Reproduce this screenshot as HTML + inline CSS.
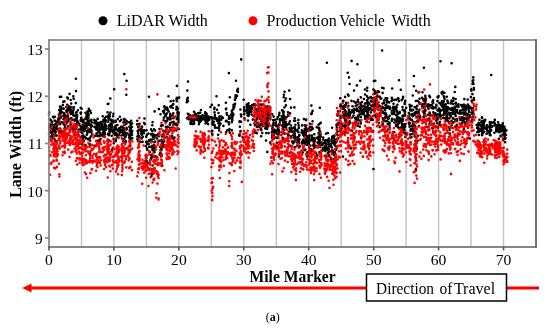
<!DOCTYPE html>
<html><head><meta charset="utf-8"><style>
html,body{margin:0;padding:0;background:#fff;}
body{width:550px;height:333px;overflow:hidden;}
svg{display:block;}
text{font-family:"Liberation Serif","Times New Roman",serif;}
</style></head><body>
<svg width="550" height="333" viewBox="0 0 550 333">
<rect width="550" height="333" fill="#fff"/>
<g stroke="#c4c4c4" stroke-width="1.4"><line x1="81.5" y1="40" x2="81.5" y2="247"/><line x1="113.9" y1="40" x2="113.9" y2="247"/><line x1="146.4" y1="40" x2="146.4" y2="247"/><line x1="178.9" y1="40" x2="178.9" y2="247"/><line x1="211.3" y1="40" x2="211.3" y2="247"/><line x1="243.8" y1="40" x2="243.8" y2="247"/><line x1="276.3" y1="40" x2="276.3" y2="247"/><line x1="308.7" y1="40" x2="308.7" y2="247"/><line x1="341.2" y1="40" x2="341.2" y2="247"/><line x1="373.7" y1="40" x2="373.7" y2="247"/><line x1="406.1" y1="40" x2="406.1" y2="247"/><line x1="438.6" y1="40" x2="438.6" y2="247"/><line x1="471.0" y1="40" x2="471.0" y2="247"/><line x1="503.5" y1="40" x2="503.5" y2="247"/></g>
<g stroke-width="2.6" stroke-linecap="round" fill="none">
<path d="M387.7 117.5h0M49.2 128.7h0M425.0 106.5h0M351.5 100.9h0M116.3 133.4h0M120.7 130.8h0M306.1 130.6h0M481.9 129.0h0M60.8 116.7h0M298.1 137.9h0M255.6 105.3h0M402.8 98.5h0M303.9 119.1h0M502.8 123.2h0M86.1 126.8h0M267.5 120.5h0M413.9 86.3h0M364.7 107.1h0M228.9 73.1h0M382.1 50.5h0M340.2 98.2h0M398.0 122.0h0M63.6 116.0h0M219.0 121.0h0M425.6 97.9h0M310.1 126.9h0M130.1 140.2h0M77.1 117.3h0M307.9 155.9h0M228.7 122.4h0M311.2 129.9h0M70.5 107.8h0M252.1 105.0h0M473.9 98.0h0M452.8 114.0h0M85.0 128.8h0M152.6 165.5h0M79.4 123.7h0M482.8 124.1h0M411.5 120.1h0M320.6 134.3h0M124.3 132.2h0M56.7 128.4h0M472.5 113.3h0M424.8 113.2h0M388.4 118.2h0M123.2 132.3h0M304.7 125.3h0M484.2 126.1h0M139.8 141.6h0M464.6 123.0h0M412.3 126.1h0M221.6 116.8h0M159.5 129.0h0M312.6 121.3h0M413.5 121.7h0M83.0 128.5h0M482.9 131.8h0M187.3 98.7h0M52.5 129.0h0M146.4 141.9h0M102.0 135.0h0M77.2 115.3h0M468.7 106.1h0M385.2 109.7h0M88.4 115.4h0M350.3 112.3h0M81.6 108.7h0M217.0 127.7h0M163.3 134.6h0M261.4 130.1h0M446.4 111.7h0M70.6 109.6h0M376.1 107.7h0M435.4 113.2h0M49.7 124.3h0M325.0 142.5h0M101.0 122.1h0M410.6 130.8h0M261.4 119.1h0M386.3 105.1h0M499.4 132.3h0M170.5 119.3h0M129.2 137.7h0M89.8 120.8h0M278.4 134.3h0M318.4 137.2h0M121.2 131.9h0M308.4 143.7h0M371.5 118.1h0M52.2 121.8h0M312.5 149.7h0M290.0 152.9h0M164.3 106.2h0M317.8 137.1h0M367.2 108.5h0M472.5 114.0h0M279.4 132.3h0M55.7 124.9h0M126.8 133.3h0M341.8 117.1h0M318.3 139.0h0M339.8 127.6h0M367.0 100.4h0M50.1 131.4h0M100.6 139.1h0M246.7 104.5h0M339.9 111.2h0M86.2 119.0h0M350.2 122.9h0M314.6 141.8h0M341.4 125.9h0M60.5 109.5h0M482.5 133.6h0M387.7 101.5h0M463.2 117.5h0M225.9 121.2h0M292.1 141.6h0M252.2 108.4h0M355.6 102.7h0M355.7 109.7h0M268.8 114.5h0M126.9 121.3h0M476.7 125.1h0M49.7 132.7h0M77.9 122.0h0M98.9 131.8h0M166.0 114.4h0M289.9 121.3h0M212.2 118.7h0M189.1 116.3h0M330.8 151.0h0M416.2 122.1h0M256.9 133.3h0M288.2 135.0h0M360.3 108.7h0M399.0 80.2h0M437.2 123.2h0M318.3 146.4h0M107.6 112.2h0M416.4 113.0h0M432.1 115.2h0M218.2 134.7h0M166.4 129.6h0M124.8 135.4h0M356.4 118.7h0M265.9 126.5h0M73.4 115.5h0M151.8 155.8h0M149.2 146.9h0M439.5 124.6h0M291.0 125.5h0M469.6 108.2h0M83.6 120.5h0M440.4 111.1h0M170.0 117.0h0M502.7 129.0h0M51.8 122.3h0M252.9 119.6h0M398.0 114.0h0M424.6 114.0h0M125.1 136.7h0M100.2 124.3h0M259.1 126.4h0M163.3 130.7h0M282.5 126.2h0M498.8 138.9h0M187.8 97.9h0M319.6 123.8h0M472.0 121.7h0M358.0 123.2h0M142.3 130.7h0M468.4 120.1h0M61.3 96.7h0M103.1 133.2h0M250.3 110.8h0M126.4 148.5h0M65.4 117.8h0M453.1 112.9h0M273.2 120.2h0M161.4 150.2h0M248.5 103.3h0M483.9 132.0h0M429.8 106.0h0M75.8 115.3h0M370.9 112.4h0M163.0 111.4h0M272.3 133.9h0M478.9 134.9h0M273.1 124.3h0M328.3 142.5h0M316.8 138.0h0M443.7 115.3h0M397.0 119.3h0M282.5 120.8h0M500.7 130.0h0M178.3 113.5h0M404.6 110.4h0M59.9 96.9h0M139.6 123.7h0M277.8 117.0h0M309.4 140.5h0M97.1 125.1h0M489.8 125.9h0M167.6 126.8h0M161.5 146.2h0M59.4 110.0h0M247.4 106.3h0M81.2 128.0h0M276.0 122.2h0M306.2 119.5h0M499.0 129.6h0M268.5 122.9h0M331.3 143.7h0M166.8 121.2h0M276.9 142.8h0M196.9 119.3h0M319.9 139.1h0M335.4 141.8h0M132.0 134.9h0M156.8 156.7h0M486.1 128.3h0M389.1 102.4h0M191.0 123.9h0M59.7 122.1h0M411.1 109.7h0M467.2 120.4h0M325.2 141.3h0M104.5 133.0h0M193.8 115.5h0M241.0 121.7h0M389.6 107.6h0M464.8 118.3h0M302.0 143.6h0M490.3 122.9h0M208.1 120.4h0M504.5 134.5h0M206.4 121.6h0M85.7 124.4h0M384.7 113.8h0M210.4 107.0h0M146.2 136.7h0M435.4 108.1h0M115.7 125.7h0M195.1 113.5h0M374.8 99.6h0M64.9 127.2h0M319.2 145.2h0M148.7 141.2h0M108.4 103.7h0M422.5 120.7h0M85.4 118.5h0M487.0 125.3h0M115.7 141.2h0M285.9 105.4h0M227.3 130.2h0M59.9 113.4h0M168.9 131.7h0M480.8 130.1h0M312.5 150.3h0M84.9 126.4h0M177.9 118.7h0M482.6 128.9h0M244.2 110.3h0M108.0 121.7h0M104.7 118.2h0M130.4 122.3h0M361.8 106.8h0M318.0 147.3h0M110.5 112.5h0M81.5 130.6h0M198.3 116.0h0M361.3 109.7h0M500.9 131.2h0M68.5 108.5h0M297.6 139.8h0M63.9 113.0h0M374.9 93.4h0M58.1 123.9h0M479.0 131.5h0M365.4 115.9h0M452.7 110.0h0M219.4 125.0h0M113.6 130.4h0M51.4 125.0h0M349.1 123.7h0M461.3 119.2h0M154.5 152.3h0M419.4 103.6h0M307.0 156.4h0M173.7 121.9h0M97.4 130.1h0M130.2 130.6h0M332.4 152.2h0M266.0 110.0h0M219.2 130.4h0M373.0 98.4h0M173.3 122.6h0M139.9 141.8h0M178.7 113.3h0M259.3 118.3h0M55.4 124.3h0M394.3 122.5h0M59.5 133.0h0M132.0 132.8h0M330.9 145.7h0M58.8 119.5h0M248.1 109.7h0M506.4 130.2h0M77.2 123.0h0M129.4 136.3h0M76.6 114.9h0M444.2 97.1h0M305.8 137.9h0M473.9 88.0h0M283.3 113.2h0M61.7 112.5h0M333.7 141.0h0M195.3 118.5h0M385.7 115.7h0M138.1 127.3h0M53.0 116.9h0M428.4 105.5h0M322.6 143.9h0M453.1 104.1h0M505.3 129.7h0M267.5 125.4h0M123.7 121.9h0M205.5 123.5h0M456.9 106.1h0M71.0 123.5h0M401.8 120.9h0M120.7 129.6h0M332.3 142.8h0M232.1 110.5h0M473.3 110.8h0M465.5 114.6h0M276.6 133.4h0M130.9 129.1h0M277.9 127.9h0M505.3 138.1h0M260.9 114.2h0M403.0 120.7h0M74.3 126.0h0M322.7 148.5h0M194.8 116.2h0M492.0 127.0h0M391.8 110.7h0M84.3 127.7h0M428.2 120.1h0M255.4 120.8h0M424.5 108.0h0M451.5 120.9h0M361.1 105.6h0M371.0 100.9h0M165.5 131.2h0M337.6 131.6h0M113.3 132.5h0M83.1 126.2h0M288.3 141.1h0M481.9 125.4h0M202.4 115.2h0M311.9 135.5h0M153.7 138.8h0M216.7 118.2h0M250.5 111.9h0M267.8 122.9h0M80.8 129.3h0M472.3 110.0h0M233.7 107.3h0M86.9 131.3h0M108.2 115.8h0M331.9 150.2h0M490.0 125.6h0M88.2 128.8h0M104.1 119.9h0M362.9 112.4h0M462.6 106.0h0M67.2 110.4h0M99.2 123.5h0M88.4 111.1h0M275.6 130.7h0M146.4 158.4h0M487.4 126.8h0M417.6 140.8h0M177.5 108.3h0M188.6 119.3h0M100.7 125.0h0M439.8 122.1h0M492.2 126.4h0M272.8 138.1h0M64.5 125.0h0M109.6 116.4h0M391.8 112.9h0M148.5 133.5h0M265.5 117.0h0M168.6 111.4h0M74.7 124.0h0M429.5 124.0h0M236.1 95.6h0M152.7 156.9h0M278.9 130.1h0M123.6 132.3h0M370.8 97.0h0M138.2 131.7h0M248.5 103.7h0M363.5 114.3h0M130.6 124.5h0M444.3 114.8h0M60.8 133.2h0M197.1 119.2h0M63.6 108.7h0M252.9 105.5h0M450.2 114.5h0M103.0 127.2h0M331.9 147.5h0M260.2 118.7h0M443.8 108.5h0M505.2 131.0h0M305.5 134.5h0M347.7 72.7h0M348.5 128.2h0M113.4 113.8h0M114.0 132.6h0M61.9 122.3h0M502.1 131.1h0M95.7 127.1h0M447.1 115.3h0M502.5 134.5h0M458.4 113.2h0M333.7 159.3h0M489.9 132.3h0M258.1 110.8h0M118.0 134.7h0M248.0 113.4h0M205.3 119.6h0M478.7 130.7h0M282.7 129.0h0M229.8 132.7h0M359.2 107.3h0M215.1 117.8h0M455.1 112.6h0M467.2 117.1h0M204.6 118.0h0M312.7 140.8h0M103.2 121.6h0M483.8 123.4h0M208.0 118.0h0M439.3 103.0h0M380.2 106.4h0M248.3 116.0h0M82.0 144.2h0M447.6 107.1h0M352.5 117.3h0M479.0 123.5h0M126.5 134.4h0M67.5 110.9h0M415.7 157.8h0M319.7 136.5h0M262.1 121.8h0M465.1 124.0h0M88.8 108.9h0M293.6 137.5h0M272.0 132.7h0M232.1 112.7h0M255.4 124.2h0M375.3 80.7h0M160.5 114.3h0M205.1 112.2h0M283.6 121.4h0M409.4 124.6h0M126.6 80.7h0M369.4 103.9h0M404.9 115.6h0M99.3 136.3h0M217.0 120.7h0M385.2 108.1h0M123.5 134.8h0M388.5 107.3h0M345.1 96.9h0M432.8 101.1h0M506.1 130.7h0M408.7 118.0h0M446.2 119.9h0M482.0 117.4h0M141.4 132.3h0M131.9 132.2h0M489.3 131.0h0M261.8 116.7h0M52.3 138.0h0M388.7 118.3h0M237.0 95.9h0M504.5 126.8h0M437.6 119.3h0M472.9 108.2h0M389.7 123.1h0M443.9 115.0h0M411.8 119.9h0M50.3 127.8h0M466.3 118.5h0M83.3 128.1h0M325.5 147.4h0M90.1 129.7h0M219.5 120.3h0M387.2 98.4h0M424.3 114.0h0M346.0 102.9h0M114.2 133.8h0M191.8 116.9h0M218.5 113.0h0M272.6 128.0h0M248.3 112.9h0M423.7 107.5h0M125.4 136.9h0M478.7 122.8h0M123.3 147.9h0M60.3 113.8h0M376.9 93.2h0M482.1 118.1h0M334.4 135.5h0M109.0 134.7h0M261.2 120.9h0M473.9 89.8h0M424.2 114.7h0M304.7 150.2h0M462.3 105.4h0M247.0 106.9h0M353.5 115.5h0M63.5 119.2h0M137.4 139.3h0M267.3 121.5h0M479.4 119.8h0M174.2 117.5h0M60.0 106.6h0M115.1 134.9h0M247.8 112.3h0M385.2 121.2h0M454.9 108.9h0M490.1 131.7h0M419.1 102.3h0M251.8 114.7h0M115.8 126.4h0M104.7 130.4h0M205.9 116.7h0M65.2 125.5h0M261.7 122.2h0M214.9 127.7h0M499.3 130.9h0M294.7 128.5h0M176.5 123.6h0M382.6 103.6h0M231.8 116.5h0M124.5 135.7h0M284.6 91.8h0M498.9 125.1h0M357.1 105.1h0M360.5 103.3h0M152.7 135.7h0M165.5 121.1h0M355.4 118.1h0M251.8 108.5h0M467.1 114.1h0M81.3 117.8h0M176.5 109.0h0M282.8 120.5h0M91.4 131.6h0M266.7 107.7h0M361.7 113.4h0M461.7 110.2h0M349.5 116.2h0M55.2 140.8h0M339.2 122.6h0M353.6 123.2h0M382.6 107.8h0M266.1 118.6h0M469.7 117.1h0M249.0 114.2h0M305.9 136.9h0M463.8 129.1h0M103.2 120.4h0M63.3 101.9h0M196.9 119.6h0M294.5 134.4h0M86.8 134.8h0M80.9 119.6h0M428.6 114.7h0M199.8 117.2h0M436.6 115.8h0M170.4 130.2h0M237.9 91.9h0M214.8 125.7h0M356.8 108.5h0M199.4 120.4h0M451.6 125.4h0M279.8 123.4h0M155.4 147.0h0M348.6 95.7h0M124.3 122.2h0M492.3 122.8h0M481.8 131.2h0M73.0 112.6h0M385.4 105.2h0M417.8 135.8h0M97.7 118.9h0M504.1 135.4h0M287.9 124.2h0M126.5 134.4h0M219.1 121.7h0M367.6 102.4h0M79.4 136.3h0M205.6 114.2h0M307.7 142.7h0M387.9 118.8h0M110.3 98.5h0M358.5 120.2h0M205.5 114.5h0M445.4 109.5h0M112.3 127.4h0M478.7 128.4h0M172.1 122.3h0M325.5 145.7h0M410.4 110.5h0M443.0 110.0h0M279.9 124.7h0M290.0 129.9h0M109.2 135.2h0M386.9 102.4h0M482.0 130.0h0M303.1 134.8h0M194.0 117.0h0M270.4 119.2h0M314.2 138.1h0M176.5 124.9h0M435.3 114.8h0M477.3 128.3h0M102.6 124.2h0M447.6 120.6h0M460.1 110.9h0M200.7 120.0h0M258.0 114.6h0M111.5 119.9h0M422.5 92.2h0M400.7 119.2h0M216.6 119.4h0M389.6 127.5h0M129.1 135.0h0M149.0 96.7h0M244.5 111.0h0M358.2 101.7h0M447.6 101.4h0M412.3 128.7h0M326.0 133.8h0M382.7 118.4h0M317.6 127.5h0M338.0 138.2h0M438.3 110.6h0M204.0 117.4h0M72.1 126.7h0M401.6 100.3h0M279.9 120.8h0M231.8 117.1h0M375.6 99.9h0M71.5 110.9h0M484.6 121.6h0M478.5 129.8h0M404.5 130.3h0M309.1 140.2h0M312.1 137.3h0M447.6 107.4h0M141.5 131.6h0M118.3 129.7h0M233.0 113.8h0M154.1 168.6h0M115.5 130.0h0M88.8 124.8h0M247.5 109.2h0M168.5 96.3h0M88.0 115.8h0M425.1 101.1h0M110.7 126.9h0M393.3 106.9h0M67.1 104.7h0M413.1 130.8h0M377.0 96.4h0M200.2 112.8h0M262.4 113.1h0M162.4 142.6h0M328.3 142.1h0M131.2 120.8h0M336.6 139.9h0M172.8 117.8h0M375.9 117.3h0M357.9 117.2h0M125.2 135.4h0M455.1 109.4h0M284.1 130.1h0M116.2 132.9h0M325.0 147.6h0M349.6 84.0h0M256.9 127.0h0M457.1 110.1h0M130.0 139.5h0M295.6 138.0h0M457.0 105.9h0M194.1 122.6h0M195.1 119.6h0M125.5 119.9h0M272.3 126.8h0M75.9 78.8h0M123.6 133.7h0M323.3 139.8h0M379.7 127.1h0M59.4 117.0h0M156.9 135.4h0M214.3 109.1h0M345.6 105.3h0M361.2 114.1h0M319.8 107.7h0M373.4 89.5h0M413.0 128.5h0M497.7 130.9h0M434.6 114.2h0M328.2 150.5h0M378.2 106.2h0M281.8 116.3h0M260.6 110.4h0M478.4 131.6h0M108.4 118.7h0M477.1 127.9h0M305.6 138.6h0M233.5 104.9h0M420.0 119.7h0M297.5 129.8h0M504.7 136.7h0M284.1 125.6h0M481.0 125.0h0M471.5 108.1h0M441.1 105.0h0M325.7 147.8h0M106.2 128.8h0M202.8 119.5h0M273.7 135.0h0M416.8 109.1h0M343.0 156.6h0M126.0 133.2h0M139.5 136.7h0M68.4 118.3h0M378.2 96.5h0M76.3 112.7h0M244.3 113.9h0M447.3 100.5h0M359.5 111.4h0M410.8 106.2h0M231.8 130.4h0M346.2 116.5h0M211.6 131.5h0M278.1 128.9h0M88.2 139.1h0M161.5 141.3h0M267.8 127.0h0M418.7 112.1h0M294.0 120.7h0M98.6 125.6h0M388.6 122.0h0M199.0 113.1h0M462.2 106.1h0M484.3 120.5h0M49.9 132.7h0M132.2 131.0h0M496.1 131.4h0M119.8 132.7h0M298.7 125.6h0M379.0 91.8h0M110.1 130.7h0M438.1 97.2h0M49.8 126.3h0M214.9 115.1h0M487.0 128.3h0M481.1 130.5h0M62.8 105.1h0M68.4 121.2h0M229.8 97.2h0M97.2 123.3h0M52.8 124.9h0M129.1 122.2h0M237.3 90.9h0M67.9 109.4h0M494.9 124.4h0M152.9 136.9h0M367.3 118.9h0M450.7 103.5h0M367.9 114.9h0M266.1 112.7h0M433.0 102.2h0M411.5 137.3h0M56.7 141.4h0M126.8 129.3h0M281.3 119.1h0M505.4 138.6h0M164.7 109.5h0M462.7 105.2h0M246.8 110.2h0M167.4 147.3h0M103.1 134.3h0M240.4 109.5h0M173.2 104.0h0M404.5 125.9h0M332.4 142.4h0M345.4 125.6h0M176.9 85.9h0M256.2 109.0h0M498.7 131.5h0M187.0 118.2h0M78.3 134.5h0M322.9 149.7h0M303.6 146.1h0M357.9 123.2h0M340.1 131.2h0M385.4 114.5h0M246.9 105.6h0M327.6 147.7h0M469.6 107.3h0M80.9 120.0h0M457.9 105.1h0M248.4 111.3h0M255.3 120.8h0M457.6 135.0h0M152.6 122.1h0M344.0 116.2h0M464.5 107.1h0M370.0 108.1h0M49.0 133.5h0M152.8 169.2h0M282.8 110.8h0M409.6 104.7h0M378.1 107.0h0M458.4 104.3h0M73.9 107.4h0M440.3 115.2h0M189.9 118.7h0M316.1 153.2h0M319.0 127.7h0M335.2 143.4h0M314.9 147.0h0M257.0 109.8h0M410.3 134.5h0M176.8 119.2h0M235.1 103.7h0M345.2 118.5h0M397.4 104.8h0M420.1 116.8h0M250.5 108.5h0M360.8 97.4h0M288.2 115.7h0M59.9 129.2h0M387.7 124.0h0M151.5 146.8h0M204.3 116.4h0M248.3 105.2h0M154.2 144.9h0M214.4 118.4h0M163.0 144.3h0M170.6 119.2h0M412.4 114.6h0M388.0 107.4h0M100.0 135.5h0M343.3 100.7h0M67.7 109.8h0M200.4 121.7h0M162.0 125.3h0M472.7 81.0h0M106.1 125.7h0M442.3 94.1h0M442.4 91.8h0M504.6 132.9h0M272.3 135.7h0M147.2 149.7h0M463.7 113.4h0M272.4 132.6h0M328.9 155.3h0M108.1 133.7h0M279.3 154.2h0M64.3 122.2h0M52.5 128.7h0M443.9 101.6h0M356.9 85.4h0M257.5 124.0h0M190.8 116.8h0M394.0 112.4h0M190.2 115.5h0M412.4 134.1h0M334.9 143.2h0M336.4 125.0h0M423.9 116.8h0M279.2 115.1h0M212.5 123.4h0M60.2 111.5h0M499.4 129.2h0M141.2 131.1h0M325.0 150.0h0M154.0 129.2h0M108.8 140.4h0M103.0 128.2h0M437.4 118.1h0M497.8 130.9h0M256.4 119.9h0M126.3 94.8h0M274.2 132.8h0M220.5 123.5h0M124.7 136.5h0M118.3 130.9h0M410.0 109.6h0M413.1 131.3h0M115.7 121.8h0M427.9 107.1h0M102.7 116.3h0M433.6 107.0h0M147.0 148.5h0M94.9 135.9h0M80.6 112.7h0M498.8 129.0h0M361.0 106.5h0M468.5 119.4h0M113.6 138.9h0M449.6 130.0h0M262.1 124.3h0M110.5 131.6h0M88.3 118.5h0M385.6 98.4h0M318.6 146.4h0M327.9 148.1h0M49.5 139.4h0M267.6 114.8h0M389.6 125.2h0M265.8 122.8h0M251.9 108.9h0M311.4 105.6h0M229.5 129.1h0M49.6 124.9h0M75.5 120.1h0M502.8 125.8h0M386.6 117.3h0M76.4 119.5h0M267.2 112.4h0M290.1 113.2h0M482.1 129.9h0M467.2 115.6h0M427.8 114.8h0M329.1 152.0h0M337.7 123.5h0M429.4 95.9h0M367.5 101.6h0M248.3 110.1h0M470.9 97.1h0M486.4 128.9h0M60.2 131.3h0M109.4 131.2h0M244.1 107.3h0M105.1 125.0h0M90.5 125.5h0M378.1 118.5h0M458.0 113.0h0M448.8 121.9h0M455.6 103.6h0M465.6 110.7h0M423.2 107.8h0M286.1 127.5h0M497.5 127.0h0M69.6 108.3h0M208.1 124.1h0M490.1 124.5h0M311.8 112.9h0M319.3 138.9h0M86.9 118.2h0M487.1 127.6h0M439.8 109.8h0M289.6 128.1h0M464.7 108.3h0M285.9 121.8h0M290.8 129.1h0M341.1 116.2h0M425.6 100.7h0M399.7 113.0h0M249.9 109.1h0M373.7 101.3h0M410.8 129.3h0M257.2 112.4h0M386.8 107.8h0M285.8 123.5h0M304.9 131.4h0M464.1 107.1h0M200.0 117.6h0M153.0 173.4h0M201.0 117.2h0M264.1 109.7h0M257.7 123.1h0M393.5 103.7h0M177.8 111.9h0M250.3 109.5h0M235.6 95.2h0M310.1 123.7h0M440.5 61.3h0M244.4 118.3h0M331.3 141.2h0M75.3 116.1h0M481.7 128.5h0M71.3 118.2h0M410.1 134.6h0M90.3 110.8h0M319.2 140.6h0M423.7 99.4h0M332.1 127.7h0M447.0 111.5h0M247.9 107.2h0M139.0 137.1h0M151.1 129.4h0M283.9 94.7h0M273.6 122.8h0M414.6 112.8h0M483.1 126.0h0M251.7 114.5h0M328.7 144.3h0M463.5 109.1h0M298.5 132.3h0M464.0 114.6h0M417.7 121.0h0M231.8 110.9h0M293.4 134.9h0M414.7 107.0h0M350.0 114.6h0M220.3 124.0h0M276.3 146.6h0M362.8 110.8h0M484.2 131.7h0M172.4 127.6h0M110.7 129.6h0M91.1 124.7h0M317.5 142.5h0M473.2 83.2h0M307.5 136.4h0M463.5 104.8h0M477.9 125.7h0M262.3 133.1h0M478.3 124.0h0M73.6 109.7h0M504.6 137.1h0M87.3 133.5h0M344.2 106.8h0M53.5 117.5h0M248.8 106.0h0M392.6 108.0h0M199.3 122.4h0M419.6 98.8h0M439.2 108.6h0M116.1 134.8h0M382.5 122.0h0M113.7 133.7h0M356.1 122.7h0M327.5 140.6h0M108.2 121.4h0M67.0 120.0h0M360.2 120.7h0M489.8 135.0h0M152.6 150.3h0M167.4 110.0h0M443.5 105.0h0M102.8 128.1h0M449.5 128.3h0M404.6 110.5h0M284.4 133.4h0M237.5 91.2h0M385.0 110.1h0M55.7 128.3h0M298.2 123.1h0M357.4 109.9h0M505.2 135.0h0M325.0 148.5h0M268.5 112.4h0M109.5 129.5h0M77.2 115.4h0M425.5 99.0h0M413.3 122.7h0M89.9 137.9h0M319.8 144.4h0M231.7 115.8h0M54.8 131.0h0M456.9 124.7h0M332.2 137.6h0M502.7 126.7h0M141.9 134.8h0M269.8 119.3h0M471.5 112.5h0M149.7 152.0h0M60.3 115.8h0M231.5 117.5h0M463.8 113.0h0M244.1 109.2h0M374.2 99.1h0M266.7 116.6h0M214.5 107.7h0M111.8 125.3h0M83.4 135.6h0M306.0 138.8h0M332.0 151.2h0M66.8 110.5h0M293.2 141.9h0M49.2 127.4h0M377.5 91.2h0M429.8 124.0h0M450.4 113.6h0M126.2 129.6h0M442.7 102.8h0M293.0 143.4h0M163.8 117.8h0M91.5 130.5h0M292.9 131.5h0M467.9 104.5h0M302.0 125.4h0M79.0 124.7h0M49.2 112.3h0M212.5 124.6h0M234.2 107.5h0M413.1 109.7h0M123.3 141.2h0M357.1 110.9h0M162.7 125.3h0M236.6 95.6h0M244.2 110.0h0M218.8 120.0h0M162.0 136.5h0M160.0 146.8h0M201.2 118.5h0M417.2 105.9h0M167.2 121.1h0M297.7 131.4h0M131.9 131.2h0M233.1 113.5h0M142.6 141.7h0M361.0 105.0h0M250.4 124.8h0M96.5 122.3h0M64.7 131.4h0M304.7 129.1h0M164.0 111.5h0M174.5 137.6h0M337.6 115.8h0M404.3 124.2h0M354.1 108.9h0M124.1 119.1h0M397.3 119.7h0M441.8 101.3h0M389.7 115.9h0M440.2 117.5h0M95.8 120.8h0M445.5 104.2h0M449.7 114.6h0M311.6 139.0h0M299.2 135.7h0M161.3 155.7h0M366.3 103.0h0M105.7 130.1h0M504.2 132.0h0M443.3 118.0h0M464.5 122.0h0M310.5 149.3h0M169.8 127.8h0M490.5 125.1h0M375.0 115.0h0M463.7 112.7h0M290.7 130.8h0M478.5 123.6h0M226.2 108.6h0M374.3 104.1h0M424.2 106.9h0M415.9 113.4h0M265.0 115.1h0M367.1 110.5h0M445.5 106.8h0M444.5 99.0h0M319.4 129.9h0M325.8 140.2h0M52.9 131.6h0M357.8 116.5h0M227.0 114.8h0M68.1 109.8h0M357.9 125.8h0M193.7 117.1h0M129.8 137.0h0M286.6 117.2h0M455.7 115.9h0M76.5 116.2h0M312.8 140.0h0M367.8 108.1h0M365.3 107.1h0M489.7 132.2h0M457.3 119.1h0M490.2 129.5h0M445.5 112.1h0M268.5 125.4h0M377.9 104.3h0M446.5 113.5h0M414.5 128.7h0M232.5 115.2h0M444.2 108.1h0M125.3 142.7h0M113.4 122.3h0M170.4 115.7h0M293.9 142.4h0M64.4 101.4h0M433.0 103.2h0M371.3 101.6h0M108.3 116.9h0M162.5 142.4h0M374.1 102.5h0M64.9 119.1h0M393.7 109.1h0M406.1 107.9h0M355.6 118.5h0M77.5 122.0h0M246.9 109.4h0M247.8 106.4h0M359.6 131.3h0M378.1 115.3h0M491.2 75.0h0M284.4 107.5h0M326.2 144.8h0M489.9 127.2h0M219.3 122.9h0M323.1 148.3h0M273.7 131.8h0M84.6 136.8h0M505.2 142.3h0M294.8 135.6h0M86.5 116.5h0M71.2 103.6h0M144.0 165.0h0M52.5 135.9h0M460.5 113.8h0M451.6 100.6h0M52.3 129.2h0M460.4 119.9h0M356.5 122.7h0M198.3 116.0h0M425.4 110.8h0M234.9 99.9h0M309.3 130.7h0M501.0 125.6h0M473.3 77.4h0M82.8 124.9h0M283.0 130.9h0M450.4 109.6h0M374.8 97.9h0M279.1 124.6h0M365.1 111.0h0M66.5 106.9h0M417.3 121.5h0M229.7 118.2h0M259.8 124.8h0M365.8 107.6h0M412.7 116.1h0M142.2 142.0h0M303.4 142.7h0M288.1 114.7h0M494.9 123.5h0M90.7 129.3h0M283.7 111.7h0M452.6 108.1h0M412.0 110.5h0M320.2 131.7h0M124.2 133.2h0M316.7 127.3h0M386.8 100.9h0M111.7 122.3h0M137.3 120.7h0M304.2 136.5h0M504.3 134.6h0M239.7 121.9h0M152.3 155.2h0M328.0 140.5h0M123.3 139.8h0M314.3 147.9h0M306.0 120.3h0M374.6 106.3h0M332.0 141.5h0M375.9 102.8h0M501.4 126.8h0M284.1 123.6h0M83.1 139.4h0M235.6 98.1h0M409.2 122.7h0M121.1 126.7h0M335.0 152.2h0M425.3 95.9h0M400.8 89.7h0M297.1 145.6h0M444.4 92.8h0M331.1 145.4h0M436.4 106.2h0M124.2 131.0h0M176.8 97.9h0M344.7 111.7h0M159.6 154.6h0M263.3 116.8h0M402.7 115.5h0M482.2 134.7h0M268.0 113.6h0M441.5 92.8h0M405.3 137.0h0M97.3 136.0h0M130.3 127.7h0M392.2 88.5h0M502.5 127.4h0M412.9 122.7h0M440.0 110.3h0M122.3 126.8h0M368.8 102.9h0M348.4 105.7h0M422.2 104.4h0M272.3 128.7h0M276.8 131.3h0M244.7 111.0h0M153.9 136.3h0M445.3 106.3h0M466.1 114.3h0M95.3 127.1h0M367.5 111.9h0M167.0 107.5h0M348.4 117.5h0M89.9 124.8h0M63.6 124.0h0M461.4 117.2h0M170.4 107.1h0M312.5 128.7h0M345.3 110.9h0M202.0 118.8h0M255.0 132.6h0M168.5 142.9h0M391.6 100.9h0M118.9 134.8h0M444.5 109.2h0M444.2 109.3h0M401.8 123.5h0M261.2 136.2h0M87.7 121.0h0M85.9 138.5h0M91.1 126.9h0M414.6 132.0h0M223.4 125.9h0M161.8 155.8h0M68.5 106.1h0M358.1 115.9h0M422.3 107.3h0M126.2 134.4h0M433.2 132.0h0M85.5 112.8h0M325.9 155.6h0M266.3 133.1h0M113.2 132.2h0M299.2 139.1h0M383.0 124.8h0M219.3 118.5h0M412.8 95.5h0M251.8 108.4h0M279.9 124.5h0M442.2 106.8h0M482.6 126.4h0M343.9 114.9h0M376.5 101.2h0M114.1 132.8h0M410.4 119.4h0M165.7 115.4h0M397.0 118.0h0M178.7 129.0h0M348.4 124.7h0M313.0 145.5h0M397.0 111.0h0M191.0 122.2h0M261.0 109.6h0M304.9 143.4h0M440.0 103.3h0M166.8 113.5h0M192.3 119.9h0M374.0 109.5h0M333.7 159.8h0M453.1 118.0h0M67.9 98.4h0M363.9 112.0h0M334.7 139.4h0M354.0 112.5h0M77.0 121.9h0M394.4 119.6h0M464.3 99.1h0M460.3 118.3h0M455.1 114.3h0M151.2 159.3h0M155.0 147.3h0M139.0 126.3h0M138.9 136.0h0M500.2 131.2h0M354.0 112.6h0M410.4 137.6h0M226.2 132.1h0M359.3 111.8h0M498.8 131.9h0M437.8 114.4h0M384.1 100.5h0M68.6 106.8h0M55.7 135.1h0M313.8 144.6h0M232.2 117.1h0M283.6 115.0h0" stroke="#000"/>
<path d="M452.3 123.8h0M367.3 128.3h0M194.7 135.8h0M64.8 137.9h0M77.9 131.8h0M64.7 147.8h0M231.9 145.7h0M54.2 153.8h0M173.4 142.5h0M432.6 150.3h0M314.0 163.3h0M247.7 130.8h0M394.2 138.2h0M492.7 148.1h0M251.5 140.3h0M301.4 150.5h0M368.4 130.6h0M428.9 126.4h0M429.7 129.6h0M502.6 153.1h0M463.9 154.0h0M249.7 153.1h0M203.9 138.7h0M49.6 164.3h0M299.0 154.4h0M438.1 149.7h0M477.6 143.1h0M92.6 158.0h0M271.3 157.8h0M368.8 147.8h0M438.2 145.5h0M63.4 135.0h0M174.2 145.1h0M221.2 151.8h0M363.4 146.4h0M477.5 146.5h0M348.2 132.8h0M444.9 141.5h0M500.1 147.6h0M502.8 140.0h0M407.2 134.8h0M301.4 158.3h0M436.3 135.7h0M307.4 152.1h0M345.7 132.7h0M194.3 117.2h0M287.5 147.1h0M119.4 160.5h0M474.2 99.8h0M289.0 141.1h0M324.8 165.5h0M71.8 120.3h0M347.8 141.1h0M401.7 135.0h0M97.4 143.3h0M116.7 147.3h0M167.3 150.4h0M109.0 145.8h0M485.6 138.5h0M462.0 125.4h0M433.2 108.1h0M65.8 142.8h0M204.3 147.8h0M96.0 146.3h0M408.2 147.7h0M401.8 144.9h0M215.0 141.6h0M444.9 142.8h0M92.4 145.0h0M424.4 144.1h0M244.2 151.2h0M194.5 141.7h0M243.3 134.3h0M68.3 133.4h0M421.6 132.1h0M106.0 155.1h0M81.8 153.2h0M76.2 134.7h0M80.5 131.9h0M157.7 172.8h0M389.9 142.7h0M388.6 140.2h0M416.5 164.5h0M330.3 156.8h0M386.6 126.5h0M193.5 116.9h0M270.1 115.2h0M301.6 161.8h0M62.7 131.9h0M347.6 107.7h0M324.6 166.2h0M80.6 137.3h0M79.6 141.6h0M241.8 181.9h0M478.4 150.2h0M232.2 147.6h0M218.0 138.5h0M415.8 168.7h0M285.9 118.8h0M138.9 168.3h0M247.9 152.1h0M167.0 159.1h0M402.5 150.2h0M284.6 142.5h0M415.6 143.5h0M360.6 124.0h0M503.9 160.5h0M114.0 162.5h0M392.4 134.6h0M445.2 118.1h0M484.3 143.8h0M503.0 140.5h0M388.8 142.4h0M462.5 126.5h0M404.8 149.3h0M240.0 153.5h0M337.4 168.4h0M79.6 162.8h0M361.3 148.5h0M72.8 131.1h0M309.6 169.9h0M258.2 117.6h0M118.6 146.9h0M320.9 177.8h0M110.5 157.3h0M56.8 148.2h0M221.5 154.2h0M410.1 125.7h0M56.6 156.5h0M423.6 145.9h0M75.5 151.4h0M138.8 156.0h0M58.9 140.2h0M476.1 109.4h0M309.3 152.3h0M99.5 149.4h0M380.1 137.7h0M418.0 119.3h0M166.4 147.6h0M52.0 140.7h0M426.0 132.3h0M219.3 166.4h0M273.6 136.9h0M267.5 87.0h0M294.1 156.0h0M225.6 153.0h0M270.3 108.1h0M148.5 186.1h0M167.2 146.6h0M62.6 140.2h0M348.4 142.7h0M367.2 156.6h0M495.9 145.2h0M167.5 142.0h0M274.1 145.8h0M450.1 133.5h0M480.2 144.4h0M68.2 149.6h0M219.7 142.8h0M480.4 149.7h0M499.9 150.2h0M435.9 127.3h0M211.7 178.6h0M75.1 136.2h0M325.0 173.8h0M49.5 140.9h0M195.6 140.7h0M443.7 150.9h0M479.3 144.8h0M313.5 142.1h0M81.7 158.4h0M79.1 136.0h0M340.9 129.8h0M467.6 134.2h0M83.4 159.6h0M265.3 116.6h0M147.5 167.6h0M118.6 149.6h0M84.9 172.5h0M396.3 122.6h0M173.9 139.9h0M161.2 146.8h0M472.4 118.1h0M353.7 141.3h0M54.0 144.1h0M374.4 106.4h0M422.1 127.6h0M334.3 171.4h0M497.4 151.2h0M85.9 148.7h0M145.4 161.4h0M56.6 142.0h0M489.2 144.7h0M145.8 158.5h0M461.8 126.5h0M309.3 135.8h0M343.7 142.0h0M276.2 145.6h0M257.7 114.6h0M469.0 133.2h0M278.6 148.7h0M251.5 147.5h0M385.5 131.5h0M195.9 144.4h0M335.2 160.2h0M303.5 147.3h0M169.8 150.9h0M80.5 138.4h0M126.3 89.2h0M240.2 147.5h0M351.7 153.2h0M170.7 138.7h0M287.3 154.1h0M435.1 126.3h0M297.6 163.8h0M172.3 144.9h0M320.7 154.4h0M128.7 150.9h0M282.3 137.6h0M320.7 166.0h0M344.8 127.9h0M484.2 140.3h0M157.7 174.1h0M130.2 146.4h0M278.6 138.2h0M484.0 147.5h0M339.9 157.4h0M422.7 111.4h0M429.2 142.9h0M417.0 178.6h0M450.2 116.7h0M202.5 135.5h0M116.6 137.6h0M223.7 153.8h0M232.1 162.5h0M378.3 125.3h0M345.5 131.8h0M440.5 136.1h0M473.6 103.8h0M92.1 169.0h0M406.1 144.4h0M316.8 158.3h0M367.1 128.6h0M395.6 157.9h0M500.1 148.8h0M315.9 146.5h0M416.2 151.0h0M355.9 132.4h0M306.6 125.2h0M266.2 116.2h0M396.4 137.1h0M261.4 115.4h0M166.6 153.2h0M336.6 133.7h0M374.7 110.8h0M390.1 132.4h0M84.1 149.4h0M74.9 129.9h0M507.0 160.8h0M55.2 168.4h0M156.3 197.8h0M482.4 153.0h0M168.9 142.9h0M483.4 146.6h0M415.2 156.7h0M399.5 171.4h0M327.1 160.4h0M415.0 130.6h0M107.6 157.2h0M351.4 137.9h0M314.9 160.7h0M108.4 142.1h0M434.7 141.3h0M422.0 135.1h0M336.8 140.8h0M219.9 152.4h0M302.1 154.9h0M258.1 116.1h0M148.8 174.0h0M166.1 144.7h0M307.2 169.6h0M335.5 169.3h0M430.3 116.3h0M118.3 162.6h0M78.1 136.2h0M265.7 116.6h0M272.9 152.0h0M394.4 149.2h0M281.1 135.0h0M397.9 139.9h0M65.2 146.0h0M338.7 156.5h0M426.0 144.8h0M446.9 149.1h0M309.0 164.6h0M139.1 147.1h0M363.5 142.7h0M319.4 162.1h0M300.2 171.7h0M153.5 160.9h0M414.6 151.8h0M203.0 151.9h0M300.4 152.6h0M400.6 141.6h0M195.1 135.9h0M122.4 167.2h0M416.0 140.5h0M420.2 117.2h0M103.7 156.3h0M56.3 144.2h0M106.9 141.4h0M409.8 159.2h0M53.9 161.3h0M77.1 164.5h0M324.7 163.4h0M284.2 141.4h0M258.8 100.7h0M112.7 147.9h0M173.9 127.5h0M503.5 161.0h0M337.2 147.7h0M423.7 101.2h0M219.4 153.7h0M258.6 105.4h0M287.8 148.2h0M503.6 161.8h0M505.9 157.3h0M168.2 143.6h0M76.5 138.1h0M481.0 152.6h0M299.8 158.7h0M366.0 151.6h0M489.5 151.4h0M97.9 141.8h0M359.2 141.7h0M161.8 160.1h0M139.3 159.9h0M64.1 131.2h0M503.6 164.3h0M217.1 152.9h0M342.0 125.1h0M427.9 143.2h0M161.8 162.3h0M436.5 126.3h0M380.8 115.8h0M154.1 179.9h0M397.7 143.8h0M474.1 135.6h0M324.1 148.3h0M344.6 129.0h0M170.4 143.3h0M480.3 147.3h0M441.6 136.1h0M324.8 172.9h0M265.7 112.2h0M246.4 144.1h0M503.9 154.8h0M105.8 159.6h0M273.7 148.7h0M175.5 141.5h0M386.9 131.3h0M336.7 120.2h0M269.4 119.2h0M73.7 133.1h0M280.4 158.7h0M471.9 127.5h0M341.8 128.1h0M248.7 145.2h0M157.9 142.2h0M329.9 169.7h0M248.7 142.4h0M208.7 139.3h0M495.1 148.2h0M374.4 108.9h0M335.1 169.9h0M388.6 159.8h0M89.6 144.4h0M346.3 129.0h0M334.4 167.9h0M65.2 135.0h0M119.1 150.2h0M400.8 131.9h0M319.4 173.9h0M161.1 149.9h0M438.5 130.7h0M373.3 152.5h0M369.1 122.2h0M392.3 135.1h0M457.9 135.8h0M410.5 142.0h0M79.6 140.2h0M231.6 146.5h0M236.4 151.3h0M303.3 169.4h0M313.3 164.0h0M234.1 158.3h0M327.2 166.0h0M428.4 130.3h0M117.4 151.5h0M281.9 145.9h0M122.7 148.7h0M282.4 139.7h0M59.4 176.5h0M354.6 139.0h0M351.2 130.6h0M428.4 130.5h0M213.3 160.2h0M336.4 172.4h0M402.2 144.8h0M66.7 138.0h0M493.6 140.3h0M309.6 163.3h0M497.9 145.7h0M429.0 119.9h0M172.3 152.3h0M121.9 175.1h0M378.6 119.1h0M383.2 140.0h0M464.0 132.3h0M373.1 145.6h0M313.9 153.6h0M281.6 142.5h0M166.8 154.0h0M429.6 114.9h0M118.4 152.6h0M232.0 143.5h0M84.6 146.8h0M380.5 109.8h0M122.5 169.1h0M243.1 145.7h0M67.9 134.5h0M227.2 157.9h0M97.2 163.9h0M258.1 124.5h0M199.8 147.3h0M224.7 151.9h0M487.5 149.5h0M90.0 161.0h0M110.2 155.5h0M430.3 138.9h0M49.4 151.1h0M225.0 153.0h0M484.0 146.1h0M116.5 152.9h0M467.0 139.4h0M333.4 167.9h0M309.6 156.5h0M321.6 141.7h0M81.6 141.8h0M153.2 171.9h0M429.4 129.5h0M366.6 128.4h0M124.8 151.1h0M78.0 142.9h0M250.0 135.0h0M247.6 140.2h0M260.4 115.6h0M97.6 159.5h0M74.9 127.6h0M468.0 127.7h0M331.5 165.4h0M453.1 132.1h0M500.2 142.5h0M354.4 128.4h0M479.2 153.7h0M264.2 108.4h0M204.5 134.0h0M225.8 150.2h0M53.9 150.7h0M64.8 153.1h0M106.2 167.3h0M484.3 162.8h0M284.7 146.4h0M500.2 146.5h0M434.6 118.9h0M346.1 122.5h0M201.0 150.5h0M169.9 148.4h0M449.1 123.6h0M490.3 151.0h0M405.9 135.7h0M499.9 151.4h0M298.5 145.9h0M57.2 149.1h0M287.7 155.5h0M121.6 147.9h0M489.3 150.1h0M402.4 148.4h0M153.4 170.1h0M76.4 132.6h0M488.8 145.1h0M202.8 141.3h0M270.2 109.7h0M280.0 124.6h0M498.8 156.7h0M124.2 162.7h0M66.6 123.7h0M321.4 157.1h0M408.0 138.7h0M258.3 112.3h0M106.8 149.0h0M101.0 151.9h0M360.6 152.8h0M444.2 114.6h0M418.4 121.7h0M424.2 89.5h0M355.6 144.9h0M83.5 165.0h0M448.7 140.8h0M268.2 83.4h0M444.6 124.2h0M196.3 137.1h0M118.6 162.2h0M479.8 150.1h0M406.3 134.1h0M414.2 144.6h0M240.5 141.9h0M271.7 161.4h0M434.5 154.3h0M426.1 98.8h0M469.8 124.7h0M118.7 159.1h0M212.4 135.3h0M145.6 155.6h0M384.8 126.5h0M346.3 119.7h0M220.9 167.2h0M233.1 161.0h0M443.5 125.1h0M139.1 130.1h0M195.2 146.9h0M260.5 104.5h0M410.7 165.5h0M122.3 150.4h0M401.2 129.7h0M270.4 163.8h0M96.9 145.4h0M74.4 124.2h0M204.0 147.6h0M410.6 144.2h0M327.3 169.5h0M122.0 158.3h0M117.5 166.9h0M52.8 143.6h0M113.1 147.8h0M415.7 145.4h0M153.1 146.0h0M74.8 135.4h0M243.8 138.7h0M334.5 167.6h0M116.6 149.4h0M294.3 159.4h0M247.5 147.3h0M488.7 153.9h0M331.5 158.2h0M258.8 100.5h0M77.5 143.5h0M268.5 91.4h0M204.0 145.2h0M393.0 151.8h0M166.1 146.7h0M306.6 167.0h0M369.1 154.6h0M333.7 168.0h0M259.0 113.4h0M384.4 141.1h0M128.5 154.5h0M71.4 152.4h0M468.0 133.5h0M468.4 133.3h0M443.6 128.6h0M213.1 186.7h0M137.5 159.4h0M490.3 144.6h0M99.6 136.0h0M178.5 152.1h0M319.4 165.9h0M355.7 126.1h0M406.2 145.5h0M331.2 165.5h0M472.1 102.2h0M407.4 133.0h0M72.3 143.3h0M204.6 139.7h0M428.5 118.6h0M281.2 148.0h0M223.0 151.1h0M462.7 134.0h0M300.2 146.0h0M405.9 132.5h0M157.4 171.8h0M98.5 157.1h0M355.8 148.0h0M107.5 145.7h0M241.8 154.2h0M139.0 168.7h0M246.7 136.4h0M484.1 146.4h0M264.8 110.2h0M316.8 163.1h0M169.7 144.9h0M129.7 152.5h0M258.7 106.3h0M117.9 159.5h0M387.9 135.0h0M252.7 133.7h0M347.8 127.8h0M273.4 129.4h0M361.3 120.1h0M171.0 147.8h0M287.7 162.0h0M280.3 144.5h0M288.0 138.6h0M386.9 135.9h0M75.7 147.2h0M114.3 156.4h0M406.3 119.9h0M481.7 153.9h0M161.4 129.0h0M446.2 151.6h0M89.9 153.0h0M475.7 144.6h0M69.1 129.7h0M142.9 162.8h0M382.5 149.5h0M269.2 124.9h0M490.5 154.0h0M450.6 122.6h0M437.7 141.0h0M70.0 135.6h0M306.2 154.5h0M64.9 130.8h0M203.2 144.2h0M401.8 151.5h0M443.5 138.9h0M438.0 147.2h0M155.9 170.9h0M424.6 127.3h0M128.8 133.8h0M157.4 157.6h0M440.1 139.7h0M254.6 110.6h0M449.4 137.4h0M333.0 166.5h0M466.2 141.4h0M208.9 144.8h0M273.8 156.5h0M373.1 131.2h0M247.7 140.6h0M416.6 143.2h0M243.9 131.0h0M167.3 150.2h0M315.3 151.9h0M320.2 167.7h0M275.1 153.7h0M432.6 128.1h0M204.9 141.9h0M198.5 146.1h0M295.9 179.9h0M415.4 154.1h0M390.3 138.9h0M349.7 155.5h0M54.0 167.7h0M245.2 133.4h0M374.3 111.1h0M219.8 178.0h0M261.4 108.2h0M414.8 146.8h0M337.0 165.0h0M392.4 138.2h0M219.2 166.4h0M261.0 109.7h0M161.1 159.7h0M284.6 153.7h0M267.2 73.1h0M245.3 136.7h0M108.0 160.9h0M167.6 132.2h0M240.5 163.1h0M389.3 132.7h0M298.8 147.7h0M139.2 138.8h0M480.4 156.4h0M139.2 164.7h0M74.6 138.1h0M339.6 135.1h0M59.2 147.9h0M328.9 165.0h0M416.7 129.1h0M416.1 148.1h0M360.3 143.7h0M138.6 145.0h0M460.0 131.3h0M312.1 151.3h0M287.4 130.0h0M243.8 150.1h0M79.5 159.5h0M378.3 117.2h0M157.4 173.3h0M240.4 167.8h0M294.7 154.3h0M415.6 126.8h0M86.1 162.2h0M200.8 141.7h0M153.4 179.6h0M283.8 168.3h0M258.7 111.8h0M122.3 143.6h0M425.8 146.9h0M468.2 137.7h0M507.2 149.5h0M401.6 131.7h0M255.1 104.2h0M116.0 127.1h0M174.3 140.2h0M415.5 146.9h0M243.5 140.4h0M252.9 145.3h0M321.0 152.9h0M205.0 150.7h0M212.1 182.4h0M129.4 167.9h0M71.3 139.5h0M198.1 136.8h0M79.3 158.2h0M108.3 153.3h0M416.9 137.4h0M328.8 149.7h0M352.7 138.5h0M344.4 123.3h0M455.0 126.8h0M295.8 168.5h0M237.1 142.4h0M464.4 143.1h0M234.8 141.9h0M118.8 161.8h0M378.1 109.9h0M122.2 151.2h0M291.6 149.2h0M333.5 174.3h0M380.0 114.4h0M76.5 139.4h0M392.9 137.8h0M387.0 155.7h0M50.6 155.4h0M212.1 200.3h0M84.4 121.7h0M311.1 153.1h0M122.4 156.0h0M55.8 147.2h0M321.4 163.2h0M291.3 172.1h0M178.1 123.3h0M455.1 140.4h0M452.8 143.3h0M67.1 135.1h0M234.3 171.1h0M51.5 126.6h0M491.9 146.1h0M311.4 168.9h0M231.5 153.1h0M363.0 149.3h0M273.2 150.6h0M472.1 120.8h0M335.7 157.5h0M346.3 130.9h0M296.1 139.1h0M264.2 110.0h0M415.5 145.5h0M192.0 117.6h0M384.8 135.5h0M392.2 137.1h0M118.5 165.1h0M172.8 125.0h0M298.4 157.0h0M334.5 158.8h0M456.0 129.7h0M401.2 133.9h0M296.0 173.9h0M328.7 180.8h0M118.7 150.9h0M500.0 148.5h0M425.9 123.4h0M112.4 164.9h0M232.1 139.3h0M357.4 123.0h0M450.4 149.2h0M169.4 130.1h0M495.2 146.6h0M477.7 153.0h0M120.9 156.7h0M293.5 132.1h0M197.0 138.6h0M56.5 150.2h0M51.5 162.6h0M341.1 132.1h0M373.9 103.4h0M64.6 115.7h0M231.8 143.1h0M326.3 158.8h0M315.2 156.3h0M270.0 114.9h0M219.3 170.0h0M59.0 145.5h0M107.6 144.1h0M202.7 133.4h0M208.3 141.0h0M499.1 151.6h0M385.2 132.6h0M268.3 100.0h0M232.5 157.5h0M460.3 126.2h0M173.1 154.0h0M504.1 160.7h0M85.3 162.6h0M314.7 167.5h0M353.6 147.9h0M278.5 138.3h0M254.5 110.2h0M292.7 152.7h0M84.2 144.5h0M66.6 133.9h0M92.7 162.7h0M402.1 128.4h0M300.8 168.3h0M402.0 144.3h0M167.5 156.1h0M415.9 159.4h0M434.4 123.2h0M432.9 127.5h0M298.0 152.9h0M255.7 100.1h0M62.6 133.6h0M124.6 143.0h0M269.8 114.3h0M244.7 119.7h0M341.0 133.5h0M70.1 139.8h0M454.7 135.3h0M265.2 106.3h0M398.9 134.2h0M257.3 118.6h0M490.0 148.9h0M155.9 149.6h0M425.8 127.0h0M431.3 137.7h0M202.7 139.8h0M394.4 147.7h0M75.3 136.8h0M265.4 116.3h0M125.9 158.9h0M166.5 132.7h0M271.1 144.5h0M321.7 164.6h0M110.2 154.5h0M117.3 150.2h0M275.4 137.4h0M255.2 119.6h0M256.0 113.0h0M229.4 173.1h0M145.4 170.8h0M166.6 147.1h0M428.9 153.9h0M347.4 125.2h0M444.8 126.3h0M109.5 145.7h0M273.7 157.7h0M236.4 150.8h0M233.2 152.7h0M240.7 155.7h0M338.7 113.8h0M370.5 136.1h0M157.4 94.4h0M240.1 161.6h0M414.6 182.9h0M260.7 129.1h0M122.0 149.8h0M410.9 154.4h0M257.7 102.1h0M500.0 147.6h0M492.2 154.6h0M314.7 171.6h0M108.0 158.3h0M380.3 109.1h0M126.3 167.4h0M464.5 141.0h0M332.9 172.1h0M151.2 147.1h0M65.1 120.1h0M376.8 120.9h0M106.4 154.5h0M99.9 162.9h0M448.7 145.1h0M86.9 162.9h0M296.0 168.2h0M82.1 140.7h0M175.7 168.5h0M57.1 156.0h0M345.8 148.5h0M269.8 116.6h0M441.3 144.6h0M230.9 155.4h0M208.5 141.1h0M108.0 152.6h0M71.1 119.4h0M229.2 181.2h0M270.4 125.5h0M484.0 139.9h0M483.3 145.6h0M434.7 132.3h0M428.5 138.0h0M76.1 125.9h0M275.3 153.6h0M72.3 128.9h0M139.2 144.1h0M132.1 141.2h0M112.8 160.3h0M444.9 138.7h0M340.9 145.9h0M85.7 162.2h0M158.7 140.8h0M60.1 136.4h0M356.5 141.9h0M405.5 141.2h0M204.9 149.0h0M221.0 132.3h0M370.6 116.1h0M57.0 166.9h0M401.0 143.3h0M105.1 165.2h0M300.0 152.2h0M281.8 158.2h0M156.8 159.6h0M380.2 131.2h0M364.3 149.2h0M376.5 115.2h0M299.1 156.7h0M333.5 163.8h0M393.6 138.4h0M441.0 126.4h0M429.6 138.4h0M436.3 135.5h0M369.4 136.7h0M160.1 150.3h0M420.3 117.8h0M352.4 151.5h0M74.2 135.3h0M484.2 149.7h0M479.4 147.6h0M94.3 160.8h0M177.8 128.0h0M64.4 132.7h0M178.0 135.0h0M111.9 150.8h0M223.6 160.1h0M288.0 139.3h0M55.9 144.2h0M502.7 139.3h0M387.1 138.8h0M384.7 118.8h0M446.7 126.5h0M267.9 126.9h0M489.0 153.5h0M173.7 131.1h0M311.3 157.1h0M291.4 130.8h0M150.4 165.0h0M281.2 146.0h0M166.6 128.4h0M229.9 153.7h0M247.9 137.4h0M115.9 153.6h0M204.8 140.6h0M422.7 132.4h0M246.4 153.2h0M169.8 147.4h0M74.5 139.0h0M482.4 151.7h0M203.2 134.1h0M168.4 158.7h0M438.1 127.5h0M150.4 159.7h0M139.9 155.6h0M59.7 131.3h0M429.4 112.2h0M68.7 140.7h0M161.3 164.5h0M171.3 137.7h0M364.2 130.7h0M428.5 151.9h0M108.6 161.2h0M268.4 72.5h0M159.2 132.9h0M356.4 131.0h0M122.6 162.6h0M426.4 105.5h0M88.2 139.4h0M336.4 148.6h0M336.7 165.4h0M497.9 149.6h0M194.7 139.2h0M396.2 142.2h0M69.8 144.4h0M462.4 137.2h0M72.4 126.5h0M392.8 133.7h0M109.8 158.1h0M243.9 139.9h0M54.4 148.6h0M58.8 114.5h0M259.1 117.1h0M177.6 154.3h0M226.1 151.3h0M361.4 136.9h0M138.2 147.7h0M444.0 136.3h0M58.9 163.8h0M129.1 141.4h0M389.6 146.2h0M127.8 149.5h0M270.1 116.4h0M414.4 163.2h0M103.8 141.3h0M169.3 144.7h0M267.9 112.1h0M401.8 141.4h0M129.7 158.6h0M369.4 143.3h0M376.9 99.6h0M423.9 137.1h0M420.6 120.0h0M295.7 147.1h0M152.6 182.5h0M331.1 160.5h0M376.9 103.7h0M267.6 113.4h0M313.4 163.6h0M303.8 164.6h0M92.6 155.7h0M430.1 107.1h0M240.4 132.5h0M498.8 147.7h0M331.8 153.3h0M172.2 133.4h0M279.1 142.0h0M258.5 107.5h0M142.4 159.7h0M155.9 160.3h0M303.1 159.4h0M166.3 149.1h0M367.1 132.2h0M420.5 135.4h0M67.7 113.4h0M160.0 131.8h0M130.4 145.9h0M62.5 136.2h0M455.8 136.6h0M220.5 160.7h0M130.2 150.6h0M334.6 175.8h0M401.5 132.3h0M104.7 159.9h0M359.1 134.2h0M497.3 152.5h0M196.8 143.4h0M204.9 138.5h0M157.6 165.2h0M255.7 115.4h0M268.0 67.5h0M195.4 117.6h0M260.5 114.3h0M466.5 116.4h0M77.9 145.8h0M364.4 148.4h0M76.9 158.3h0M503.2 137.2h0M353.8 140.8h0M294.8 160.1h0M496.9 154.9h0M295.8 157.6h0M456.8 144.1h0M100.1 140.8h0M268.4 109.6h0M142.9 168.7h0M436.5 144.0h0M495.3 146.2h0M441.0 125.1h0M122.2 145.3h0M316.6 155.3h0M240.0 148.1h0M267.2 99.2h0M57.9 130.5h0M262.0 117.4h0M335.4 158.1h0M380.1 98.6h0M269.9 106.5h0M138.6 140.8h0M300.3 157.2h0M145.5 163.5h0M154.3 161.5h0M316.1 162.3h0M491.8 143.7h0M89.7 160.6h0M399.8 151.4h0M107.7 150.9h0M118.3 156.7h0M64.5 152.5h0M300.2 162.6h0M76.0 142.1h0M297.5 157.3h0M413.9 148.7h0M490.1 151.8h0M82.1 155.8h0M158.9 164.4h0M72.0 136.8h0M261.5 112.3h0M73.0 140.6h0M109.6 160.7h0M416.4 160.8h0M227.2 154.1h0M85.7 163.4h0M177.8 139.3h0M284.7 151.9h0M143.6 164.5h0M49.2 147.5h0M139.1 151.9h0M499.4 156.6h0M354.7 133.3h0M414.4 134.2h0M294.8 156.5h0M370.8 128.3h0M477.5 140.9h0M454.8 137.5h0M81.8 160.6h0M484.1 146.6h0M258.5 103.7h0M384.7 145.8h0M64.6 151.5h0M460.5 124.4h0M64.2 128.8h0M313.4 160.1h0M71.8 126.0h0M137.3 176.3h0M147.2 166.3h0M347.7 133.0h0M51.4 144.8h0M55.9 156.6h0M252.8 131.4h0M416.3 175.6h0M416.3 116.9h0M125.1 129.7h0M477.7 143.9h0M203.2 136.4h0M450.2 149.4h0M267.3 85.4h0M154.3 178.5h0M95.4 161.6h0M208.7 136.2h0M208.5 148.4h0M284.9 160.6h0M138.7 154.2h0M286.4 152.0h0M457.3 142.5h0M225.1 149.9h0M149.1 151.1h0M287.6 152.9h0M63.5 135.6h0M426.0 116.3h0M282.5 134.1h0M169.7 139.1h0M64.0 136.6h0M419.4 156.6h0M349.1 130.1h0M198.1 137.2h0M200.5 151.8h0M138.9 161.0h0M340.1 141.6h0M493.6 145.5h0M460.1 127.2h0M146.0 154.8h0M401.7 143.0h0M128.3 157.0h0M128.5 146.8h0M314.3 169.9h0M458.2 142.2h0M496.5 142.5h0M142.0 168.0h0M458.3 144.7h0M166.5 158.6h0M296.1 170.8h0M227.8 147.5h0M459.5 127.1h0M72.7 131.4h0M452.0 127.7h0M497.3 145.4h0M441.0 119.2h0M486.9 152.8h0M125.2 144.5h0M365.1 125.9h0M450.6 147.8h0M345.6 112.3h0M61.2 132.7h0M464.8 131.1h0M432.7 115.8h0M434.2 144.2h0M142.6 163.1h0M392.8 142.8h0M413.5 151.4h0M127.5 155.3h0M107.6 162.1h0M255.0 106.8h0M487.3 155.7h0M458.2 151.3h0M195.1 145.8h0M232.2 152.9h0M431.1 125.0h0M292.0 160.9h0M334.8 160.1h0M66.8 138.2h0M225.9 143.1h0M326.8 161.0h0M212.4 163.2h0M431.5 123.9h0M385.0 131.9h0M436.4 139.0h0M485.7 144.2h0M265.4 125.6h0M439.3 137.2h0M418.4 121.6h0M444.7 140.5h0M139.9 128.7h0M426.2 124.4h0M235.1 154.7h0M79.5 152.5h0M338.7 145.8h0M51.3 163.6h0M174.3 144.3h0M407.7 145.4h0M314.9 158.5h0M192.5 117.2h0M443.6 129.9h0M451.0 153.3h0M150.6 177.3h0M54.0 147.0h0M169.9 143.8h0M461.4 140.8h0M416.4 141.0h0M240.2 152.9h0M461.4 153.4h0M303.8 166.1h0M424.2 114.8h0M298.8 153.8h0M81.4 148.0h0M410.0 148.1h0M340.8 135.1h0M401.7 148.7h0M334.7 172.3h0M189.5 117.3h0M420.5 152.5h0M319.5 153.5h0M178.3 139.6h0M453.4 128.3h0M383.3 136.2h0M302.0 158.2h0M155.0 160.9h0M161.6 154.0h0M437.8 142.3h0M96.6 144.5h0M268.7 67.3h0M198.4 136.6h0M364.8 132.2h0M348.4 160.9h0M122.1 160.3h0M466.7 143.3h0M312.8 154.7h0M354.6 138.3h0M143.6 145.5h0M130.0 142.9h0M61.9 136.3h0M54.9 152.8h0M421.4 158.7h0M488.8 148.7h0M348.7 148.0h0M292.6 155.4h0M456.6 142.7h0M389.1 141.7h0M212.5 140.3h0M177.9 146.8h0M361.7 135.5h0M281.9 151.9h0M402.9 143.0h0M287.4 149.9h0M261.7 115.2h0M340.9 122.8h0M406.8 133.1h0M138.8 158.5h0M483.5 145.1h0M286.3 138.7h0M104.4 162.4h0M102.2 152.2h0M122.4 165.0h0M261.7 108.2h0M51.2 141.4h0M294.6 158.1h0M437.5 127.1h0M416.4 133.6h0M108.3 146.4h0M244.0 142.1h0M148.9 169.0h0M142.2 183.8h0M300.0 157.6h0M272.1 174.2h0M130.4 166.9h0M132.4 141.5h0M55.2 147.1h0M434.3 127.4h0M480.7 145.1h0M100.9 160.3h0M281.6 144.9h0M369.6 141.6h0M229.8 153.6h0M161.2 145.8h0M337.0 114.1h0M245.9 143.3h0M348.0 145.4h0M56.9 143.7h0M335.1 161.1h0M201.4 139.7h0M457.3 128.5h0M168.8 143.2h0M505.7 158.4h0M270.2 111.8h0M150.4 168.5h0M240.1 135.6h0M227.9 153.6h0M416.5 154.4h0M364.4 136.4h0M105.3 164.6h0M70.4 121.8h0M294.2 154.8h0M75.8 160.8h0M291.6 155.0h0M503.1 150.9h0M418.8 116.4h0M281.9 153.4h0M451.9 139.9h0M62.8 137.8h0M240.2 146.0h0M314.2 180.1h0M332.1 151.4h0M489.0 146.4h0M388.9 141.1h0M98.1 160.8h0M327.6 165.6h0M270.2 112.6h0M117.2 163.4h0M362.8 156.8h0M279.0 151.0h0M428.4 143.5h0M443.5 140.7h0M369.2 138.8h0M90.3 146.6h0M105.4 162.0h0M208.7 131.2h0M280.9 151.8h0M386.4 136.8h0M309.8 161.0h0M382.4 129.6h0M299.4 153.1h0M291.1 138.3h0M351.2 130.2h0M495.1 143.6h0M393.1 132.0h0M88.9 152.4h0M428.6 160.1h0M393.0 142.1h0M55.9 152.4h0M305.5 165.0h0M125.3 142.9h0M59.2 136.1h0M294.0 163.8h0M128.3 147.1h0M204.7 134.7h0M393.8 141.1h0M385.3 134.9h0M255.8 121.5h0M346.2 130.4h0M147.0 164.2h0M332.2 166.5h0" stroke="#f00"/>
<path d="M84.3 131.0h0M259.2 126.5h0M88.7 122.7h0M138.9 130.1h0M152.6 147.4h0M189.3 114.8h0M164.0 113.1h0M447.3 115.4h0M320.1 141.8h0M89.9 124.8h0M87.1 123.3h0M98.9 129.2h0M112.9 122.2h0M496.3 127.7h0M307.4 152.7h0M466.1 109.0h0M190.4 123.3h0M104.4 126.9h0M284.2 119.6h0M177.0 125.2h0M322.5 150.6h0M332.3 136.6h0M451.6 63.2h0M416.1 90.8h0M345.8 105.3h0M295.7 130.4h0M65.3 117.0h0M169.8 124.8h0M294.2 127.3h0M172.7 108.0h0M272.1 137.6h0M402.8 119.2h0M358.0 116.3h0M498.7 128.4h0M137.6 131.0h0M305.7 140.0h0M91.3 125.7h0M420.0 117.5h0M177.6 108.9h0M178.4 119.4h0M73.3 114.5h0M489.8 122.1h0M409.9 114.6h0M340.4 118.3h0M177.5 113.5h0M427.5 105.3h0M130.6 128.2h0M49.7 119.2h0M490.6 125.7h0M178.5 121.6h0M352.7 111.0h0M486.9 127.8h0M309.4 141.8h0M164.5 107.0h0M167.4 118.7h0M161.4 140.3h0M505.2 138.1h0M375.0 105.5h0M68.2 109.9h0M398.8 101.1h0M158.9 136.2h0M154.8 156.1h0M144.2 131.0h0M417.0 116.8h0M497.1 128.3h0M114.2 89.3h0M178.5 112.5h0M124.3 74.1h0M96.8 127.8h0M67.4 118.0h0M454.7 92.0h0M410.0 106.6h0M410.1 107.2h0M103.2 127.2h0M336.8 127.4h0M351.6 60.9h0M317.4 155.4h0M66.4 110.7h0M307.5 140.5h0M358.1 117.7h0M229.0 130.4h0M172.6 114.9h0M173.5 100.7h0M464.3 104.9h0M169.6 119.3h0M427.7 120.0h0M394.5 99.9h0M132.0 127.0h0M469.7 138.5h0M405.2 100.9h0M82.8 122.0h0M138.1 133.8h0M482.7 131.3h0M497.8 126.9h0M332.7 153.7h0M343.1 112.4h0M504.2 130.8h0M161.4 126.1h0M471.8 100.9h0M273.6 116.6h0M121.4 135.5h0M442.4 103.5h0M422.3 107.8h0M382.7 111.5h0M124.2 134.8h0M328.5 156.2h0M260.9 104.8h0M387.8 129.6h0M314.9 140.0h0M207.9 118.0h0M293.5 135.2h0M174.9 123.7h0M502.2 125.4h0M99.3 122.7h0M334.2 136.6h0M374.6 90.7h0M49.5 128.0h0M382.7 112.0h0M437.5 109.9h0M305.3 125.9h0M205.7 118.7h0M226.6 120.7h0M391.8 120.9h0M129.9 131.3h0M419.5 115.5h0M303.5 131.6h0M120.6 130.9h0M444.7 118.3h0M423.5 99.5h0M427.5 127.2h0M375.9 100.2h0M472.6 83.7h0M374.9 91.3h0M373.9 108.3h0M326.9 62.7h0M349.7 121.4h0M151.8 139.7h0M81.0 112.8h0M262.3 120.7h0M249.6 108.5h0M232.1 117.2h0M303.0 139.7h0M394.2 113.9h0M68.0 115.7h0M235.7 96.8h0M289.8 145.6h0M231.1 114.5h0M295.4 140.0h0M443.7 114.3h0M306.1 127.8h0M130.8 138.7h0M267.6 106.4h0M154.8 156.7h0M301.9 130.3h0M70.5 124.4h0M94.5 126.9h0M96.1 129.3h0M49.8 136.3h0M382.6 107.2h0M433.4 124.3h0M359.3 114.7h0M290.1 99.0h0M398.1 98.3h0M402.7 118.7h0M73.7 98.8h0M403.1 96.9h0M432.4 128.1h0M290.0 131.1h0M191.1 117.6h0M402.3 124.8h0M177.0 108.5h0M50.8 120.1h0M348.3 117.9h0M345.3 126.7h0M178.4 115.1h0M373.9 81.1h0M199.2 120.5h0M489.8 126.9h0M323.2 137.6h0M151.7 175.7h0M382.1 87.8h0M291.9 128.1h0M430.0 105.3h0M414.8 114.5h0M373.0 131.1h0M352.1 110.3h0M457.1 111.9h0M102.5 136.1h0M289.3 131.9h0M68.3 106.1h0M194.1 123.8h0M385.4 112.7h0M447.2 108.3h0M258.4 110.8h0M109.2 114.4h0M100.8 125.4h0M395.9 99.7h0M397.8 98.7h0M404.1 129.0h0M244.1 110.8h0M117.7 137.3h0M312.6 110.9h0M355.6 118.0h0M354.0 90.6h0M420.1 103.4h0M87.4 117.3h0M56.7 135.6h0M200.9 110.1h0M152.3 131.3h0M89.5 132.0h0M414.8 126.5h0M233.3 115.1h0M472.5 94.1h0M360.2 80.8h0M99.8 130.0h0M111.8 135.8h0M248.5 115.3h0M370.7 97.2h0M225.9 109.2h0M126.5 123.4h0M361.5 110.8h0M383.6 129.9h0M365.2 116.7h0M302.1 143.0h0M278.3 135.2h0M412.2 125.9h0M266.0 140.6h0M212.3 130.9h0M382.5 106.7h0M464.0 110.6h0M307.0 138.0h0M497.7 128.8h0M226.7 113.1h0M305.2 142.1h0M160.3 152.9h0M343.5 125.9h0M372.7 119.7h0M170.1 113.8h0M312.7 128.6h0M472.3 117.6h0M173.1 138.4h0M110.5 120.0h0M313.8 139.0h0M353.8 112.6h0M87.3 131.2h0M446.8 96.8h0M298.8 128.0h0M158.9 109.0h0M73.0 112.1h0M123.0 129.6h0M432.5 102.3h0M443.8 96.2h0M360.9 117.0h0M399.7 118.1h0M337.6 135.3h0M353.9 101.5h0M57.0 125.9h0M232.0 119.5h0M432.6 106.8h0M75.7 129.0h0M177.5 112.9h0M399.8 121.2h0M88.3 117.8h0M95.0 123.1h0M425.4 103.2h0M429.7 121.6h0M483.1 123.0h0M418.5 92.4h0M211.9 104.9h0M465.5 125.2h0M315.2 145.8h0M412.1 114.1h0M92.1 133.9h0M205.5 117.2h0M80.7 120.8h0M282.2 119.0h0M205.7 113.1h0M437.6 97.1h0M262.7 126.2h0M264.0 118.3h0M154.9 135.2h0M144.8 124.1h0M60.2 124.3h0M90.1 131.2h0M267.3 151.9h0M397.1 115.1h0M293.8 141.8h0M208.0 116.5h0M449.6 133.8h0M444.6 111.6h0M289.0 124.0h0M453.3 98.1h0M262.3 117.0h0M373.4 169.0h0M422.0 105.5h0M164.5 138.1h0M251.2 108.6h0M340.6 104.6h0M318.8 133.9h0M80.7 107.7h0M233.3 109.3h0M120.6 129.5h0M282.6 116.9h0M392.5 99.8h0M94.3 122.9h0M482.2 126.8h0M232.3 118.1h0M332.2 138.4h0M71.0 113.2h0M340.5 115.9h0M454.7 106.9h0M113.1 116.2h0M483.1 123.2h0M265.7 119.0h0M358.0 99.9h0M130.6 125.8h0M289.2 123.3h0M283.7 116.4h0M359.2 114.6h0M320.8 122.8h0M73.2 127.8h0M205.6 115.8h0M352.5 106.3h0M327.8 153.3h0M429.8 113.2h0M212.5 122.3h0M437.5 110.2h0M123.4 130.8h0M282.0 110.2h0M499.0 124.8h0M404.7 112.7h0M210.5 117.5h0M335.6 146.1h0M425.4 100.6h0M327.3 163.8h0M119.4 128.0h0M216.5 96.3h0M455.1 119.6h0M401.4 122.0h0M60.1 122.2h0M286.0 98.5h0M107.7 104.0h0M146.6 130.2h0M283.0 124.2h0M333.4 136.3h0M371.2 105.8h0M100.6 127.3h0M123.2 129.4h0M358.3 115.7h0M376.5 105.4h0M445.6 107.5h0M396.6 107.6h0M345.8 111.9h0M161.0 125.7h0M57.0 123.7h0M415.2 141.0h0M161.9 140.6h0M335.7 156.7h0M67.7 119.8h0M302.6 131.9h0M397.4 113.1h0M144.1 130.5h0M382.7 124.1h0M214.6 117.3h0M413.1 123.7h0M255.3 122.8h0M320.8 136.6h0M380.3 113.5h0M205.5 120.9h0M83.8 141.1h0M121.3 119.8h0M386.7 107.6h0M276.0 123.8h0M130.6 137.6h0M188.5 116.5h0M176.8 107.4h0M70.4 111.2h0M294.5 131.3h0M137.9 124.4h0M472.1 118.7h0M294.4 138.1h0M437.7 127.6h0M483.9 125.5h0M447.1 114.2h0M338.0 111.4h0M82.1 136.4h0M348.3 113.3h0M96.4 133.6h0M123.7 123.0h0M199.2 118.9h0M314.8 140.6h0M405.5 133.8h0M491.2 130.4h0M86.3 124.4h0M99.5 135.4h0M106.0 116.7h0M445.6 104.6h0M67.9 120.4h0M471.5 90.6h0M129.4 135.3h0M177.9 117.4h0M363.4 113.9h0M222.9 117.9h0M146.3 142.0h0M500.9 127.3h0M144.7 166.3h0M402.5 107.1h0M371.5 109.8h0M498.5 127.9h0M439.8 124.8h0M399.5 112.5h0M482.0 135.1h0M262.1 121.2h0M100.6 123.1h0M418.9 114.4h0M341.4 116.7h0M455.6 99.0h0M455.4 120.7h0M311.7 113.7h0M86.0 138.0h0M152.3 125.2h0M343.7 114.8h0M364.9 109.1h0M66.9 122.3h0M70.8 127.5h0M111.8 130.0h0M283.7 97.2h0M500.4 126.6h0M268.9 113.9h0M328.4 139.9h0M447.1 118.1h0M319.4 152.0h0M167.6 133.9h0M285.4 122.9h0M504.6 129.0h0M283.7 127.5h0M84.6 130.0h0M129.4 126.9h0M75.5 119.4h0M268.5 114.9h0M355.7 118.7h0M80.5 126.2h0M386.5 114.7h0M415.5 132.2h0M254.0 104.2h0M90.0 144.3h0M308.8 143.4h0M165.4 115.5h0M471.3 89.3h0M343.5 113.0h0M419.0 116.0h0M130.5 138.8h0M297.1 142.0h0M76.7 118.3h0M219.2 126.1h0M328.7 140.9h0M54.4 138.7h0M367.2 87.8h0M397.8 119.1h0M112.8 120.6h0M173.1 118.3h0M290.7 136.5h0M67.3 97.5h0M274.0 129.7h0M119.9 121.2h0M277.4 119.0h0M481.7 121.3h0M331.6 139.5h0M367.2 90.8h0M60.6 118.1h0M307.1 129.5h0M172.1 136.0h0M295.4 124.7h0M494.8 119.9h0M105.6 121.7h0M59.6 110.0h0M348.3 113.9h0M112.0 149.7h0M284.0 122.3h0M202.1 117.9h0M77.9 110.2h0M494.5 125.6h0M375.0 115.7h0M377.1 106.6h0M232.2 120.8h0M446.3 107.9h0M151.1 134.4h0M489.6 127.4h0M368.0 105.5h0M49.0 114.2h0M379.9 96.8h0M504.4 133.5h0M404.5 124.2h0M424.3 110.8h0M68.0 108.9h0M250.7 106.2h0M464.2 119.6h0M244.1 111.1h0M396.0 106.7h0M327.5 149.2h0M141.2 133.8h0M209.3 117.1h0M236.0 80.7h0M388.3 118.9h0M415.9 169.9h0M158.1 134.1h0M76.0 91.1h0M319.5 134.8h0M108.7 134.9h0M447.4 110.2h0M344.6 118.4h0M254.3 123.5h0M402.7 131.1h0M345.1 120.2h0M468.8 110.6h0M60.9 107.1h0M438.5 96.1h0M217.0 109.8h0M398.0 127.0h0M325.0 149.6h0M298.9 141.6h0M392.0 118.9h0M54.7 135.5h0M428.5 108.8h0M402.8 127.1h0M193.6 121.2h0M142.8 136.8h0M451.8 112.7h0M342.7 117.0h0M376.1 97.3h0M396.1 121.2h0M98.5 126.6h0M367.9 118.0h0M165.9 126.9h0M82.4 133.3h0M218.3 123.2h0M286.7 124.9h0M164.3 141.4h0M451.5 108.1h0M404.7 126.3h0M257.1 118.4h0M173.3 113.3h0M122.4 130.1h0M144.4 130.7h0M384.1 102.9h0M286.2 126.0h0M305.3 149.5h0M191.5 116.6h0M108.1 134.3h0M498.7 129.0h0M344.1 131.8h0M409.5 117.9h0M266.0 114.1h0M91.6 122.4h0M405.0 126.6h0M130.9 130.9h0M187.3 90.6h0M137.2 124.4h0M364.0 112.3h0M478.8 124.6h0M408.9 123.2h0M328.3 149.0h0M273.6 130.8h0M162.5 140.8h0M243.8 114.3h0M194.1 117.5h0M123.1 132.0h0M501.6 129.9h0M193.8 121.0h0M88.3 113.2h0M393.8 110.7h0M344.1 107.7h0M448.1 102.9h0M465.3 105.6h0M469.8 107.0h0M109.2 118.0h0M341.7 106.2h0M55.0 116.7h0M73.3 96.3h0M53.5 128.8h0M462.6 107.2h0M272.2 114.3h0M473.3 83.9h0M379.1 122.8h0M404.9 111.4h0M126.6 127.9h0M404.7 103.9h0M305.3 132.6h0M63.8 115.1h0M451.4 102.4h0M266.1 123.1h0M78.5 129.6h0M229.0 124.3h0M109.7 114.8h0M166.0 108.1h0M219.4 116.6h0M206.7 113.9h0M486.9 125.6h0M289.2 90.6h0M291.0 129.7h0M404.9 115.2h0M154.2 134.8h0M489.9 134.2h0M85.6 128.1h0M423.7 116.7h0M497.6 128.3h0M465.6 113.1h0M465.5 114.2h0M455.0 111.4h0M100.5 133.1h0M150.9 139.6h0M398.9 136.9h0M273.9 138.6h0M172.7 115.1h0M349.0 77.4h0M161.3 149.1h0M109.9 132.6h0M479.9 125.2h0M500.6 125.9h0M147.0 143.9h0M71.1 118.0h0M213.9 121.7h0M66.5 111.8h0M456.7 125.7h0M283.6 126.1h0M374.8 110.3h0M163.6 145.1h0M367.1 132.6h0M472.6 109.8h0M453.0 118.5h0M332.7 138.2h0M276.0 131.3h0M116.0 139.7h0M431.6 105.0h0M108.4 128.2h0M104.7 119.7h0M113.8 129.5h0M65.2 138.9h0M49.4 127.0h0M500.5 129.1h0M122.1 138.5h0M70.8 113.9h0M374.6 115.4h0M330.8 146.4h0M176.5 109.7h0M483.2 127.7h0M174.8 124.3h0M68.2 126.4h0M428.1 104.8h0M319.0 140.2h0M368.4 110.4h0M95.2 121.8h0M500.1 128.3h0M253.7 116.0h0M90.8 131.9h0M190.7 119.7h0M120.9 129.8h0M322.4 145.1h0M304.2 141.6h0M214.5 112.4h0M425.3 110.1h0M483.3 121.1h0M99.1 140.3h0M107.8 116.9h0M443.5 109.5h0M417.5 121.6h0M81.1 131.7h0M100.7 128.7h0M77.0 125.2h0M148.7 144.1h0M309.0 137.2h0M388.6 106.5h0M497.7 126.2h0M54.6 125.6h0M424.1 104.0h0M197.2 117.0h0M303.7 135.1h0M256.0 125.0h0M309.3 137.3h0M142.1 132.6h0M295.1 129.3h0M367.5 117.3h0M319.8 146.2h0M88.6 129.4h0M207.8 119.1h0M467.3 118.6h0M73.2 107.5h0M144.1 123.0h0M273.6 124.9h0M344.4 117.1h0M373.1 110.3h0M494.4 132.7h0M90.1 140.6h0M302.2 141.9h0M336.1 149.7h0M109.8 115.8h0M123.7 128.0h0M267.6 124.9h0M497.2 125.1h0M105.8 120.3h0M368.7 110.2h0M248.7 111.4h0M179.1 97.6h0M278.4 125.6h0M113.7 132.1h0M276.0 125.9h0M422.1 97.8h0M469.1 112.0h0M381.2 109.3h0M265.3 128.4h0M267.1 129.0h0M389.6 106.9h0M440.0 113.2h0M381.3 98.5h0M467.7 99.6h0M60.0 112.3h0M141.7 138.4h0M336.8 133.2h0M388.0 106.7h0M307.3 130.2h0M284.1 127.0h0M294.7 118.3h0M172.5 105.1h0M385.0 117.6h0M334.4 144.6h0M149.2 140.0h0M77.3 121.0h0M379.0 105.3h0M76.4 112.4h0M467.8 119.7h0M413.0 127.7h0M294.5 147.3h0M83.3 141.4h0M279.4 112.9h0M490.0 123.2h0M279.3 132.3h0M275.3 119.7h0M451.0 116.2h0M278.8 156.5h0M433.3 112.2h0M53.8 131.1h0M398.8 128.2h0M100.4 128.3h0M204.3 116.0h0M314.3 134.2h0M162.3 165.7h0M413.9 76.0h0M423.9 67.7h0M341.5 123.3h0M154.2 151.2h0M200.1 120.6h0M310.5 150.7h0M265.1 123.7h0M235.9 97.7h0M194.2 118.9h0M161.6 139.7h0M255.0 125.2h0M132.3 138.2h0M294.7 133.4h0M335.8 140.5h0M299.3 135.0h0M241.2 116.5h0M272.0 131.5h0M86.6 114.7h0M417.8 112.8h0M318.3 143.0h0M297.3 141.8h0M292.0 131.7h0M115.5 120.8h0M125.2 134.6h0M397.7 120.3h0M344.8 110.1h0M302.8 152.5h0M499.1 131.1h0M494.0 122.0h0M54.8 128.2h0M444.2 106.2h0M167.6 109.0h0M333.2 151.4h0M283.3 138.4h0M283.3 122.0h0M348.3 115.8h0M55.3 132.4h0M209.2 119.7h0M445.5 111.9h0M386.8 121.1h0M368.4 98.4h0M389.7 109.0h0M282.8 125.1h0M148.5 163.3h0M436.1 119.7h0M398.9 123.2h0M319.4 140.4h0M500.8 128.4h0M344.1 113.1h0M75.8 128.3h0M94.7 145.7h0M325.6 145.9h0M394.8 107.3h0M100.8 124.3h0M282.3 125.2h0M68.6 119.6h0M60.1 128.6h0M124.4 139.0h0M154.6 111.4h0M491.3 122.4h0M248.5 106.8h0M443.2 101.6h0M365.0 89.5h0M355.7 105.8h0M373.6 98.8h0M264.9 115.4h0M163.6 120.2h0M361.8 102.1h0M360.4 104.2h0M283.3 112.1h0M301.8 142.7h0M92.0 126.0h0M118.0 129.8h0M246.9 107.1h0M449.1 127.1h0M343.1 101.2h0M334.7 142.4h0M314.1 143.9h0M457.1 120.9h0M383.6 108.1h0M56.0 121.6h0M211.8 117.3h0M105.0 134.3h0M298.8 128.0h0M345.8 125.3h0M375.9 100.6h0M82.9 137.6h0M166.7 127.2h0M408.8 113.1h0M267.6 114.1h0M311.1 149.6h0M504.5 129.2h0M328.7 142.5h0M372.7 105.1h0M325.1 156.4h0M396.2 107.5h0M207.6 120.3h0M97.0 124.1h0M113.7 143.3h0M482.1 126.7h0M438.6 115.5h0M396.2 115.2h0M368.9 115.3h0M142.1 126.9h0M487.0 129.7h0M374.3 93.8h0M308.7 136.4h0M490.0 123.5h0M144.2 130.6h0M344.6 105.4h0M158.8 140.8h0M356.3 105.5h0M259.1 108.6h0M262.5 104.5h0M327.4 140.6h0M97.4 133.1h0M473.6 99.7h0M480.9 125.7h0M86.9 126.3h0M291.6 146.5h0M359.9 126.8h0M305.7 136.7h0M366.6 116.9h0M198.9 124.2h0M59.6 131.2h0M297.2 142.6h0M143.8 133.3h0M400.3 127.9h0M351.4 112.5h0M153.4 135.8h0M270.2 142.6h0M262.5 111.1h0M458.4 106.9h0M467.7 114.3h0M320.3 146.9h0M376.8 106.0h0M206.9 121.8h0M446.7 116.0h0M94.3 119.9h0M52.0 134.0h0M496.1 129.5h0M221.0 116.5h0M392.2 114.0h0M124.7 132.9h0M108.9 126.2h0M146.9 134.9h0M285.9 125.6h0M207.1 122.0h0M70.7 107.0h0M460.7 105.1h0M371.0 119.9h0M318.6 142.8h0M288.4 135.3h0M383.1 113.0h0M455.3 86.9h0M347.8 122.9h0M240.5 131.0h0M71.0 128.5h0M208.0 119.1h0M58.2 118.6h0M241.2 59.4h0M151.6 146.8h0M309.6 135.5h0M341.4 128.6h0M145.9 146.3h0M165.3 116.2h0M80.9 128.4h0M104.5 121.5h0M291.0 136.2h0M429.7 115.0h0M207.3 119.2h0M72.5 128.9h0M204.7 116.4h0M123.1 134.4h0M489.9 128.4h0M268.4 117.9h0M109.3 125.1h0M295.2 120.8h0M246.9 106.9h0M130.2 127.0h0M453.1 110.6h0M367.5 113.7h0M480.6 130.6h0M361.0 109.0h0M391.8 97.9h0M430.1 97.2h0M117.8 119.1h0M298.4 119.9h0M190.8 121.2h0M188.0 81.6h0M363.6 109.2h0M465.8 122.7h0M337.9 124.8h0M319.8 137.3h0M462.1 123.1h0M285.7 124.3h0M86.2 118.2h0M102.3 126.1h0M394.5 111.7h0M151.9 174.0h0M81.6 129.8h0M206.3 121.0h0M325.9 145.4h0M404.3 133.0h0M194.0 111.8h0M102.8 130.2h0M486.8 133.7h0M200.5 118.3h0M242.6 137.2h0M68.1 106.3h0M65.8 118.4h0M498.1 122.3h0M486.9 126.7h0M295.2 140.6h0M255.5 132.2h0M455.8 126.6h0M88.6 122.4h0M402.7 109.9h0M229.0 116.4h0M195.2 117.8h0M348.7 124.0h0M70.3 112.6h0M237.9 88.9h0M311.9 127.2h0M333.7 137.8h0M423.9 100.3h0M96.9 124.8h0M505.0 135.4h0M447.2 118.6h0M487.4 131.6h0M473.3 80.2h0M292.6 128.2h0M58.2 121.5h0M416.9 148.7h0M110.6 125.7h0M266.2 119.1h0M154.8 147.4h0M358.3 117.0h0M349.2 109.8h0M312.0 140.3h0M214.4 124.9h0M110.5 123.9h0M170.7 106.4h0M309.3 139.6h0M336.4 141.9h0M96.9 133.6h0M380.5 113.0h0M455.7 106.7h0M328.7 149.0h0M264.1 121.6h0M125.1 124.4h0M156.8 138.4h0M176.4 130.5h0M247.0 107.2h0M141.6 126.8h0M318.3 142.6h0M415.9 101.0h0M482.4 130.0h0M415.8 107.6h0M177.4 117.4h0M497.5 129.9h0M70.7 100.0h0M433.2 108.4h0M372.7 105.9h0M414.9 125.5h0M95.5 123.4h0M123.5 132.3h0M482.1 133.7h0M54.7 120.6h0M349.4 115.6h0M163.0 134.5h0M375.8 102.0h0M88.1 139.1h0M486.6 133.8h0M187.3 100.3h0M196.0 114.8h0M142.5 130.2h0M333.9 155.1h0M302.3 141.8h0M323.5 143.0h0M302.4 132.7h0M367.2 103.4h0M190.9 118.3h0M365.0 118.8h0M490.6 135.3h0M334.8 153.7h0M226.7 121.2h0M416.9 111.9h0M294.7 127.2h0M248.0 120.5h0M152.6 149.3h0M336.8 129.8h0M167.6 117.9h0M201.0 120.5h0M141.4 129.1h0M87.3 111.8h0M404.9 114.2h0M151.0 158.1h0M53.4 130.8h0M83.2 129.9h0M66.6 107.0h0M260.9 124.2h0M305.8 134.3h0M198.0 113.2h0M153.3 150.0h0M275.5 130.4h0M318.7 132.9h0M394.4 132.2h0M112.8 130.7h0M130.0 138.3h0M404.8 127.0h0M191.3 121.6h0M417.6 100.8h0M151.3 142.3h0M344.9 106.6h0M500.6 135.7h0M453.3 100.8h0M399.6 111.9h0M141.7 138.1h0M409.7 123.0h0M434.8 115.4h0M366.9 117.5h0M53.5 129.7h0M331.0 158.7h0M82.2 127.4h0M205.2 118.4h0M115.2 129.2h0M225.9 102.7h0M367.7 112.2h0M85.7 145.3h0M170.7 101.2h0M49.8 127.4h0M152.6 148.4h0M365.0 106.5h0M123.4 133.0h0M88.2 123.9h0M76.5 127.0h0M103.6 131.4h0M357.4 64.2h0M163.9 135.6h0M469.8 115.4h0M190.9 120.1h0M177.3 98.4h0M91.4 121.2h0M61.9 131.6h0M58.1 119.5h0M234.4 105.9h0M498.9 127.2h0M484.9 128.0h0M219.1 128.2h0M294.4 134.7h0M306.1 142.0h0M125.0 123.7h0M212.3 134.0h0M98.9 125.7h0M337.6 124.8h0M427.8 105.1h0M54.1 127.0h0M323.9 147.8h0M298.3 138.8h0M187.8 113.8h0M283.3 117.1h0M56.7 128.9h0M114.9 127.1h0M500.6 136.5h0M126.0 135.4h0M505.3 134.8h0M200.1 116.2h0M219.4 116.8h0M360.8 122.9h0M265.4 119.2h0M105.0 124.2h0M60.1 116.2h0M453.4 122.4h0M239.7 121.4h0M448.9 108.4h0M473.2 112.7h0M396.0 126.1h0M441.4 115.8h0M295.0 136.1h0M155.1 141.6h0M103.3 127.1h0M345.5 120.9h0M197.9 120.2h0M63.4 108.6h0M397.7 117.0h0M231.7 122.3h0M284.9 100.9h0M137.3 136.5h0M376.0 97.4h0M285.6 117.1h0M485.2 119.8h0M441.4 110.3h0M70.6 113.1h0M500.2 126.4h0M451.7 109.5h0M396.1 124.9h0M212.6 121.4h0M465.6 122.3h0M362.8 106.0h0M303.8 133.4h0M96.6 127.8h0M419.4 109.8h0M355.8 121.4h0M428.3 104.3h0M498.0 127.4h0M401.9 126.4h0M49.5 137.8h0M318.5 124.7h0M67.2 115.7h0M129.7 130.2h0M132.1 123.5h0M328.8 138.6h0M449.1 112.8h0M361.9 113.0h0M396.1 109.1h0M433.4 112.5h0M267.6 126.0h0M335.4 162.5h0M376.4 108.2h0M90.2 154.6h0M84.7 123.1h0M247.6 115.2h0M105.2 124.2h0M301.6 132.6h0M340.2 106.4h0M412.6 115.7h0M49.6 130.6h0M352.2 130.7h0M232.3 120.1h0M466.1 107.6h0M436.3 104.8h0M462.2 110.1h0M116.0 128.4h0M176.6 106.9h0M327.8 133.0h0M463.4 106.0h0M311.3 114.1h0M74.5 120.7h0M257.8 117.1h0M299.3 140.0h0M152.4 171.0h0M348.7 111.1h0M150.9 155.3h0M192.1 116.5h0M119.8 116.7h0M299.6 146.5h0M278.0 125.8h0M437.4 101.1h0M247.0 112.5h0M411.7 105.8h0M358.1 119.8h0M309.0 128.6h0M365.1 94.5h0M486.6 128.5h0M52.6 135.9h0M345.9 114.6h0M265.6 127.5h0M504.5 133.9h0M433.9 116.4h0M367.0 121.6h0M193.5 116.0h0M130.2 149.8h0M383.3 113.0h0M383.6 88.3h0M481.1 128.6h0M383.3 119.9h0M405.5 124.0h0M104.6 129.6h0M351.0 148.4h0M307.4 144.8h0M444.1 112.0h0M277.1 147.1h0M364.8 103.7h0M59.5 122.7h0M309.2 137.1h0M192.6 117.2h0M425.0 99.1h0M146.8 161.4h0M328.7 146.4h0M170.2 123.0h0M367.1 96.4h0M414.7 136.4h0M306.6 144.8h0M314.2 140.8h0M399.5 117.7h0M376.3 116.6h0M177.8 116.0h0M91.0 113.0h0M289.2 146.3h0M192.5 115.8h0M325.4 151.1h0M129.9 145.3h0M462.8 118.1h0M268.2 110.0h0M276.9 137.9h0M309.1 147.2h0M154.4 142.0h0M162.8 147.1h0M280.1 119.0h0M80.9 113.7h0M408.6 116.6h0M117.4 125.0h0M462.6 121.1h0M501.3 126.1h0M260.9 128.5h0M305.9 132.5h0M166.6 136.9h0M394.8 109.8h0M82.9 119.7h0M291.0 107.6h0M138.0 141.3h0M404.9 111.2h0M284.2 117.1h0M187.0 101.5h0M342.9 106.6h0M395.0 107.0h0M205.6 118.0h0M365.4 109.1h0M419.0 126.0h0M60.9 109.4h0M155.0 130.4h0M494.7 125.5h0M59.2 115.1h0M192.6 124.1h0M52.1 132.2h0M258.9 124.7h0M473.1 116.6h0M436.4 120.8h0M154.8 156.1h0M239.9 126.8h0M207.9 116.6h0M423.8 112.5h0M104.8 136.8h0M239.2 135.6h0M65.6 129.6h0M294.4 107.4h0M456.8 112.2h0M355.7 122.0h0M489.5 132.9h0M91.4 119.9h0M69.6 93.9h0M363.5 111.8h0M233.5 107.2h0M176.8 101.3h0M414.5 114.9h0M382.6 92.9h0M193.7 120.5h0M91.6 125.9h0M338.1 138.7h0M319.1 128.5h0M111.8 125.1h0M55.2 124.2h0M218.7 105.2h0M86.3 127.9h0M377.9 102.9h0M251.6 111.6h0M398.5 98.5h0M61.9 112.0h0M144.5 118.5h0M54.5 134.6h0M304.0 135.1h0M501.2 126.8h0M503.8 139.4h0M307.6 130.6h0M397.9 124.6h0M506.0 134.7h0M408.8 122.7h0M154.5 148.3h0M347.9 94.6h0M497.7 126.7h0M228.9 118.7h0M170.4 116.5h0M481.2 122.4h0M503.1 128.0h0M288.0 112.3h0M129.5 135.1h0M355.4 118.1h0M268.7 133.1h0M130.8 133.3h0M106.0 126.5h0M415.9 111.7h0M84.3 126.9h0M96.3 127.5h0M273.6 120.0h0M484.9 128.5h0M111.6 127.0h0M431.8 108.0h0M374.7 103.8h0M361.0 138.2h0M240.9 114.5h0M367.2 107.1h0M502.0 127.1h0M466.6 106.0h0M125.9 141.2h0M205.1 116.8h0M186.8 102.2h0M73.7 119.7h0M499.0 130.0h0M433.2 100.2h0M221.1 119.8h0M129.6 135.9h0M262.0 115.1h0M380.3 112.7h0M445.5 121.2h0M88.6 115.3h0M449.4 118.3h0M429.6 118.7h0M310.4 145.6h0M152.3 145.9h0M91.1 136.2h0M462.4 113.3h0M343.8 132.9h0M402.6 116.4h0M68.0 109.9h0M305.9 138.7h0M455.8 102.8h0M468.1 108.2h0M262.1 110.5h0M243.7 99.8h0M325.7 143.4h0M348.5 118.3h0M297.5 137.4h0M363.9 99.0h0M96.6 140.7h0M371.6 98.1h0M477.3 132.0h0M472.4 113.6h0M334.3 143.2h0M307.6 152.3h0M409.6 126.7h0M154.6 136.7h0M104.7 133.0h0M354.1 110.6h0M489.5 126.7h0M172.4 115.1h0M176.5 99.2h0M55.7 131.9h0M270.2 117.4h0M124.2 125.0h0M481.9 129.0h0M178.4 117.3h0M188.0 101.2h0M298.8 142.9h0M370.4 108.4h0M471.2 121.5h0M414.1 127.2h0M356.5 102.2h0M152.6 134.0h0M404.8 102.5h0M237.4 90.0h0M63.6 116.5h0M239.4 134.5h0M103.1 120.8h0M75.8 103.1h0M400.5 120.0h0M200.8 117.5h0M285.7 124.7h0M248.4 109.3h0M221.7 118.2h0M320.5 143.8h0M404.2 110.7h0M343.0 108.8h0M88.5 123.5h0M64.8 114.5h0M460.3 112.4h0" stroke="#000"/>
<path d="M58.9 128.8h0M103.9 160.4h0M367.7 129.8h0M424.7 107.8h0M282.9 130.4h0M499.0 144.5h0M340.1 172.6h0M473.3 110.1h0M272.3 151.7h0M235.2 143.8h0M348.1 102.8h0M325.0 168.8h0M309.3 146.0h0M402.7 144.7h0M64.8 137.8h0M348.1 141.1h0M56.6 159.9h0M115.4 162.3h0M161.6 154.7h0M228.0 152.3h0M76.6 127.0h0M302.2 159.1h0M220.9 161.9h0M489.9 145.7h0M416.4 117.8h0M212.3 193.0h0M142.8 169.6h0M394.4 161.5h0M109.8 160.7h0M215.3 157.2h0M274.1 159.8h0M83.2 149.6h0M61.9 146.5h0M303.9 146.0h0M129.5 146.2h0M240.7 152.3h0M219.5 151.6h0M416.5 122.5h0M65.0 144.9h0M410.8 149.4h0M176.5 145.5h0M468.1 132.2h0M152.2 169.2h0M314.8 158.9h0M154.0 170.1h0M225.2 150.0h0M311.1 160.9h0M507.2 153.7h0M75.3 144.0h0M486.0 141.6h0M123.3 146.5h0M313.2 151.2h0M306.5 165.3h0M327.2 156.6h0M347.8 142.7h0M194.6 144.4h0M92.1 161.3h0M63.9 141.0h0M107.7 177.5h0M431.1 134.7h0M234.6 148.9h0M172.8 144.8h0M456.6 152.0h0M172.9 149.7h0M245.2 151.6h0M389.5 148.3h0M149.7 170.1h0M343.7 112.5h0M99.2 162.1h0M87.2 177.7h0M415.8 128.8h0M497.5 148.9h0M428.6 126.8h0M303.3 148.7h0M289.2 115.4h0M239.9 153.1h0M446.7 143.7h0M320.5 133.3h0M166.7 133.4h0M450.4 137.0h0M241.3 145.4h0M270.1 117.4h0M459.5 123.3h0M328.5 159.7h0M352.7 155.2h0M337.0 108.0h0M261.0 118.0h0M454.8 149.1h0M340.7 122.5h0M454.9 134.5h0M265.3 116.7h0M132.2 148.6h0M83.2 162.0h0M154.4 173.1h0M149.8 160.9h0M59.3 129.3h0M444.8 134.5h0M333.4 161.5h0M440.6 159.4h0M364.5 144.7h0M456.5 128.2h0M221.1 157.8h0M219.2 147.5h0M324.3 168.7h0M76.8 153.4h0M368.6 131.8h0M156.2 146.7h0M419.9 140.0h0M125.8 156.6h0M464.8 146.9h0M299.9 153.6h0M349.7 145.9h0M143.0 166.8h0M299.0 156.9h0M393.1 136.6h0M169.7 136.1h0M376.8 107.9h0M415.3 171.4h0M416.2 138.1h0M161.5 166.0h0M59.9 121.6h0M138.4 168.9h0M325.8 171.4h0M286.4 140.9h0M484.4 153.6h0M116.8 169.1h0M387.3 140.0h0M431.3 156.4h0M457.6 154.7h0M102.9 151.6h0M416.0 160.8h0M504.1 160.0h0M220.1 160.3h0M364.2 131.4h0M74.6 148.8h0M444.3 129.5h0M298.7 162.2h0M59.4 174.2h0M150.4 173.2h0M308.9 131.1h0M282.4 171.4h0M158.6 178.1h0M191.8 116.8h0M158.6 174.9h0M474.1 114.5h0M306.2 153.7h0M146.9 156.0h0M160.0 163.3h0M57.0 160.3h0M53.8 156.1h0M298.4 144.1h0M99.6 158.0h0M369.1 118.4h0M293.4 163.4h0M289.5 145.7h0M263.6 113.9h0M468.5 122.6h0M281.9 131.8h0M84.4 158.7h0M253.8 151.0h0M233.3 160.5h0M367.6 146.4h0M63.0 152.2h0M253.0 140.8h0M124.9 161.4h0M150.2 162.9h0M200.9 146.8h0M466.5 125.8h0M373.9 99.3h0M312.3 170.1h0M232.0 153.9h0M496.5 141.6h0M263.4 113.4h0M139.6 151.0h0M139.4 140.7h0M415.3 162.8h0M258.2 105.5h0M169.6 157.2h0M58.6 138.8h0M457.9 133.3h0M75.1 128.3h0M158.1 142.8h0M430.1 145.0h0M375.9 108.1h0M222.5 157.3h0M100.3 143.0h0M265.1 120.1h0M309.1 159.2h0M66.8 137.0h0M355.5 144.3h0M415.3 141.3h0M446.9 143.8h0M157.8 144.6h0M369.8 145.5h0M303.2 147.4h0M64.7 131.2h0M416.5 154.5h0M217.6 158.5h0M496.3 148.0h0M347.8 141.8h0M503.8 157.2h0M285.2 139.6h0M408.4 146.6h0M499.1 143.7h0M253.9 144.3h0M418.5 115.2h0M78.9 147.6h0M280.3 141.4h0M232.4 158.7h0M444.9 121.5h0M57.9 154.6h0M468.0 127.9h0M446.8 130.3h0M85.2 160.0h0M465.0 124.7h0M480.7 152.5h0M321.2 159.4h0M460.3 144.9h0M484.1 141.8h0M319.8 153.6h0M144.6 166.2h0M367.3 119.0h0M422.1 129.4h0M203.6 142.1h0M425.8 132.7h0M278.5 144.7h0M168.4 142.5h0M507.4 157.2h0M331.7 154.0h0M305.1 137.3h0M63.5 136.0h0M60.8 129.5h0M124.8 156.0h0M480.0 156.1h0M431.5 120.9h0M319.2 160.0h0M436.4 130.7h0M353.1 125.8h0M105.5 158.1h0M203.1 137.6h0M376.7 102.0h0M282.8 151.7h0M91.8 148.9h0M243.8 147.8h0M393.4 147.6h0M194.9 144.2h0M90.6 151.0h0M164.5 138.0h0M431.6 123.2h0M446.8 144.7h0M352.7 138.4h0M453.5 137.6h0M433.0 116.8h0M414.2 127.5h0M173.4 142.9h0M378.7 132.3h0M74.7 131.5h0M70.1 144.9h0M156.0 160.5h0M90.4 156.4h0M248.1 145.7h0M353.8 154.5h0M263.5 118.0h0M393.2 143.6h0M66.9 128.2h0M272.8 147.8h0M426.0 119.3h0M71.1 142.6h0M494.8 149.9h0M124.3 123.9h0M205.0 134.0h0M82.9 152.6h0M422.4 123.2h0M243.2 140.0h0M240.8 151.4h0M384.2 130.8h0M96.1 170.8h0M401.4 142.1h0M428.9 120.4h0M86.5 160.5h0M333.8 162.4h0M53.7 133.5h0M168.3 146.1h0M99.1 151.9h0M455.3 148.8h0M352.6 161.1h0M388.8 148.5h0M428.5 141.1h0M477.5 145.9h0M467.0 132.3h0M219.7 159.6h0M388.0 137.1h0M152.6 170.7h0M116.0 171.6h0M157.7 159.5h0M174.4 129.9h0M86.1 174.1h0M392.9 146.7h0M384.8 127.6h0M90.3 152.0h0M265.3 109.1h0M246.5 133.3h0M498.7 154.0h0M104.0 149.9h0M309.3 148.9h0M70.5 129.9h0M104.7 154.7h0M231.9 165.2h0M54.2 149.4h0M175.9 128.6h0M298.1 152.8h0M147.5 167.5h0M219.3 150.3h0M485.8 147.9h0M436.2 150.4h0M345.8 159.4h0M312.0 124.2h0M312.7 168.9h0M293.0 167.5h0M420.6 103.6h0M443.8 151.3h0M339.1 157.1h0M154.2 156.4h0M265.5 114.2h0M80.6 143.7h0M74.4 131.5h0M433.4 133.3h0M502.4 148.2h0M474.0 105.9h0M247.8 144.1h0M410.8 142.5h0M50.5 129.0h0M336.6 133.3h0M131.9 161.7h0M71.1 128.5h0M487.6 145.4h0M335.6 155.7h0M480.1 153.6h0M461.7 143.5h0M327.5 166.1h0M165.5 123.1h0M337.5 138.3h0M232.3 147.7h0M219.7 156.9h0M368.4 131.3h0M191.4 116.9h0M438.4 138.6h0M178.6 143.2h0M328.3 164.4h0M76.6 146.0h0M373.0 124.5h0M422.0 108.1h0M248.6 157.6h0M161.4 145.2h0M484.3 145.0h0M234.4 142.6h0M169.3 157.1h0M221.5 140.3h0M459.4 117.1h0M118.1 150.2h0M167.5 138.8h0M265.4 112.2h0M423.8 155.9h0M310.6 167.5h0M67.2 106.4h0M324.5 155.8h0M377.2 93.7h0M467.1 139.2h0M72.2 126.8h0M161.6 163.7h0M146.1 177.7h0M116.0 154.1h0M358.9 131.7h0M348.1 140.0h0M164.3 135.5h0M272.6 133.9h0M387.9 147.8h0M66.4 119.9h0M231.3 155.6h0M475.9 106.7h0M495.1 157.4h0M479.7 142.6h0M82.0 163.2h0M320.1 156.3h0M62.6 155.3h0M172.3 130.9h0M290.8 152.0h0M234.6 157.7h0M293.9 166.0h0M385.3 143.0h0M240.1 148.4h0M295.9 141.5h0M464.2 139.8h0M306.3 162.3h0M146.3 170.4h0M398.9 138.0h0M93.2 149.0h0M426.0 134.1h0M348.0 151.8h0M263.6 104.3h0M98.0 162.0h0M240.7 161.6h0M466.4 142.8h0M363.1 156.6h0M488.1 139.6h0M361.4 136.8h0M85.4 151.0h0M161.5 122.8h0M52.2 152.3h0M168.9 141.9h0M232.1 145.1h0M428.4 129.9h0M339.4 120.3h0M471.9 130.9h0M196.8 141.8h0M154.7 168.1h0M385.1 128.2h0M158.6 198.5h0M236.9 160.8h0M336.7 140.8h0M364.1 141.7h0M433.1 125.3h0M113.0 161.5h0M204.7 135.5h0M401.8 153.1h0M505.1 162.2h0M69.7 144.0h0M435.4 118.7h0M105.3 146.9h0M341.5 135.2h0M459.8 160.9h0M347.8 121.6h0M65.7 138.4h0M402.1 130.2h0M69.5 144.0h0M402.7 153.5h0M417.1 166.5h0M96.7 166.1h0M75.2 144.0h0M161.5 134.9h0M433.1 118.5h0M340.4 121.0h0M92.6 134.6h0M213.4 148.5h0M426.1 137.2h0M434.6 117.9h0M87.9 128.2h0M462.9 131.1h0M157.0 174.0h0M350.5 155.4h0M154.6 163.4h0M139.7 158.8h0M392.2 134.7h0M222.8 147.4h0M326.6 169.4h0M224.9 145.4h0M85.9 155.2h0M312.5 150.1h0M98.8 145.7h0M265.7 100.7h0M220.2 166.3h0M172.1 146.7h0M376.8 117.9h0M72.5 151.5h0M79.6 148.2h0M354.6 136.6h0M434.6 126.9h0M353.8 124.7h0M60.0 143.5h0M335.4 166.3h0M502.8 155.1h0M380.2 107.5h0M254.9 123.1h0M321.2 150.6h0M495.1 146.6h0M350.6 130.0h0M225.8 159.2h0M497.1 142.5h0M301.4 161.8h0M366.0 121.5h0M67.6 127.9h0M259.9 113.6h0M67.2 135.6h0M139.2 156.0h0M221.1 150.8h0M109.8 158.5h0M67.6 128.2h0M468.6 151.8h0M459.8 133.9h0M374.8 111.1h0M354.9 121.8h0M385.0 130.8h0M419.4 92.1h0M301.7 164.8h0M129.4 168.0h0M258.8 113.3h0M231.6 154.5h0M66.6 136.7h0M144.2 172.7h0M122.2 171.3h0M307.5 159.3h0M455.6 121.5h0M170.1 142.3h0M416.7 146.7h0M500.0 147.1h0M65.0 129.6h0M219.4 160.2h0M112.9 156.9h0M317.0 158.1h0M499.6 153.0h0M213.1 162.7h0M354.0 133.2h0M117.1 154.4h0M118.5 157.7h0M271.9 148.7h0M194.3 145.8h0M175.4 145.0h0M487.2 151.3h0M101.1 144.2h0M406.6 146.2h0M387.0 131.6h0M294.5 149.6h0M56.5 160.8h0M300.1 157.4h0M464.2 127.1h0M500.0 148.1h0M311.0 162.9h0M59.5 116.4h0M404.0 154.7h0M144.6 163.2h0M283.1 141.2h0M253.2 143.9h0M264.1 122.4h0M54.2 148.6h0M300.3 156.5h0M448.9 136.9h0M274.5 154.9h0M506.4 156.5h0M287.6 150.5h0M164.6 146.9h0M219.9 165.5h0M211.5 182.9h0M460.6 149.3h0M55.7 145.7h0M88.4 161.7h0M254.0 147.8h0M428.5 151.5h0M406.4 144.8h0M389.7 129.4h0M373.0 116.0h0M212.6 196.2h0M497.5 144.1h0M234.0 155.0h0M367.2 130.1h0M99.2 157.5h0M94.4 147.1h0M371.1 131.6h0M474.1 105.7h0M338.9 151.3h0M449.6 146.5h0M424.5 128.9h0M451.7 144.0h0M468.8 134.7h0M69.5 156.9h0M377.0 105.8h0M211.8 152.9h0M432.4 115.1h0M373.1 102.7h0M360.9 131.4h0M121.4 150.1h0M371.0 140.5h0M235.4 163.0h0M331.7 169.8h0M266.6 109.2h0M415.4 141.6h0M450.4 140.0h0M288.1 137.2h0M326.2 157.0h0M475.4 117.3h0M443.2 127.6h0M314.3 166.4h0M351.0 118.3h0M327.4 168.1h0M247.4 142.3h0M401.8 139.4h0M169.1 153.5h0M231.2 164.1h0M435.9 130.6h0M462.3 131.9h0M348.1 138.0h0M405.9 152.2h0M254.5 117.1h0M81.8 152.9h0M329.5 188.0h0M278.7 153.8h0M171.6 142.5h0M381.8 130.5h0M424.6 122.1h0M157.9 176.2h0M129.9 150.8h0M383.5 150.1h0M81.9 152.5h0M332.1 173.7h0M196.7 150.4h0M264.2 111.8h0M458.9 134.8h0M388.7 149.7h0M255.4 130.6h0M480.7 147.0h0M262.0 120.1h0M268.2 108.8h0M457.2 137.1h0M82.2 149.3h0M221.5 155.2h0M409.7 153.6h0M472.0 122.8h0M494.8 148.5h0M69.0 141.3h0M57.5 151.1h0M248.7 148.3h0M258.5 122.2h0M406.5 145.2h0M487.5 149.3h0M138.6 154.4h0M240.2 158.4h0M295.0 162.0h0M109.8 154.4h0M400.0 133.0h0M484.0 150.2h0M369.1 149.1h0M88.5 143.1h0M234.9 153.3h0M409.4 151.3h0M480.9 147.9h0M122.1 148.5h0M193.1 117.4h0M166.8 131.6h0M202.9 143.9h0M503.5 152.5h0M88.4 152.7h0M327.5 161.2h0M195.9 131.4h0M353.5 136.8h0M347.9 143.0h0M397.1 140.5h0M246.3 145.1h0M378.3 114.0h0M117.9 151.2h0M505.8 159.1h0M87.8 151.3h0M487.3 151.4h0M118.6 150.4h0M208.5 137.9h0M327.1 176.9h0M335.0 162.1h0M70.2 130.7h0M64.7 122.3h0M249.3 137.8h0M500.3 144.4h0M124.7 150.0h0M435.8 136.1h0M376.5 113.7h0M164.0 132.4h0M157.4 183.6h0M74.8 134.2h0M221.2 157.1h0M286.0 133.8h0M239.8 167.2h0M236.7 160.2h0M130.2 144.0h0M321.1 154.3h0M358.9 104.3h0M268.4 122.6h0M396.1 141.6h0M220.7 165.3h0M116.9 151.7h0M455.3 136.0h0M350.5 147.0h0M232.5 153.6h0M232.8 133.2h0M345.5 142.7h0M353.5 145.2h0M468.7 120.4h0M59.8 148.4h0M200.7 138.9h0M464.7 132.0h0M224.2 141.7h0M199.6 139.3h0M490.1 153.4h0M413.8 149.9h0M107.6 139.2h0M121.9 161.3h0M258.6 116.7h0M229.2 186.0h0M368.1 144.1h0M294.1 157.3h0M121.7 145.0h0M496.2 147.0h0M116.0 161.0h0M311.0 173.1h0M352.7 123.5h0M75.1 125.5h0M394.8 140.3h0M91.6 169.5h0M175.6 116.4h0M474.2 119.9h0M110.7 141.4h0M337.5 146.0h0M480.3 150.8h0M67.8 135.5h0M342.2 116.7h0M405.7 146.5h0M75.0 137.6h0M90.1 162.2h0M478.6 141.0h0M71.9 137.5h0M401.4 141.1h0M351.4 138.7h0M107.6 147.7h0M377.1 114.7h0M69.9 132.0h0M144.9 167.9h0M234.6 150.3h0M80.9 147.8h0M208.2 140.7h0M480.4 149.5h0M340.7 127.3h0M443.0 141.0h0M361.3 137.6h0M369.7 139.6h0M362.9 142.4h0M416.0 148.4h0M279.1 151.3h0M448.9 144.4h0M431.4 144.5h0M143.8 168.1h0M295.9 155.6h0M264.0 120.6h0M370.3 151.9h0M377.0 126.2h0M83.5 145.4h0M200.6 131.9h0M328.5 161.2h0M373.0 139.5h0M288.0 143.7h0M254.5 113.9h0M252.8 136.5h0M200.5 153.6h0M139.4 125.4h0M240.3 154.6h0M273.1 163.2h0M61.9 134.8h0M448.0 139.4h0M316.7 168.2h0M298.7 154.3h0M64.6 141.5h0M345.0 135.1h0M367.2 133.3h0M367.1 139.5h0M204.4 157.8h0M161.1 157.0h0M336.1 154.5h0M273.7 156.8h0M138.2 172.4h0M78.0 124.9h0M139.5 161.1h0M56.3 153.7h0M309.5 152.2h0M482.3 157.2h0M457.0 127.7h0M226.3 155.6h0M457.1 151.6h0M76.2 150.5h0M479.0 145.7h0M378.5 117.7h0M268.2 107.7h0M431.2 141.5h0M471.9 125.5h0M82.9 164.9h0M138.6 157.2h0M352.6 127.6h0M174.4 130.6h0M56.9 155.9h0M288.4 133.0h0M285.3 155.6h0M331.7 163.2h0M107.8 151.5h0M500.2 149.9h0M446.6 128.2h0M122.2 153.4h0M178.6 136.8h0M451.6 138.6h0M341.1 108.5h0M287.9 137.0h0M100.2 157.4h0M416.3 137.6h0M424.1 136.7h0M371.0 129.4h0M383.1 121.7h0M399.8 129.1h0M111.1 154.3h0M286.3 129.1h0M211.6 159.6h0M123.7 152.9h0M195.6 117.5h0M161.2 144.2h0M96.6 153.6h0M315.1 156.8h0M54.3 154.1h0M289.1 156.3h0M438.4 126.4h0M423.0 119.3h0M91.8 150.2h0M141.5 166.7h0M145.9 164.2h0M434.9 119.1h0M485.9 150.9h0M260.8 100.8h0M450.8 144.2h0M231.1 135.1h0M145.8 155.6h0M278.7 127.5h0M414.3 148.1h0M212.4 151.3h0M358.5 142.1h0M400.0 135.4h0M342.4 131.4h0M496.3 149.8h0M115.1 155.2h0M319.6 146.3h0M465.7 144.4h0M156.5 193.2h0M291.1 159.2h0M169.6 144.8h0M212.8 178.0h0M347.2 124.4h0M410.3 159.7h0M139.3 118.0h0M148.8 154.3h0M62.0 133.5h0M77.1 140.5h0M110.1 166.6h0M107.6 144.6h0M448.1 132.5h0M223.7 141.0h0M496.9 150.6h0M424.7 119.3h0M225.8 133.9h0M200.7 149.4h0M458.0 142.4h0M427.1 138.0h0M114.4 148.9h0M334.4 168.5h0M507.4 161.8h0M220.4 156.5h0M124.5 148.4h0M221.5 160.7h0M82.9 141.4h0M487.1 158.5h0M156.7 164.0h0M142.7 167.1h0M350.9 135.1h0M321.2 155.6h0M107.9 152.9h0M204.1 133.2h0M96.0 141.2h0M110.6 144.6h0M495.2 152.3h0M432.8 150.2h0M500.4 152.3h0M325.0 170.3h0M67.5 142.8h0M341.8 141.0h0M444.8 152.4h0M104.5 143.0h0M302.4 162.7h0M231.5 146.0h0M77.7 148.7h0M158.5 199.4h0M415.7 132.9h0M418.5 127.0h0M273.0 137.9h0M476.6 104.5h0M432.9 115.7h0M421.5 128.3h0M72.7 126.4h0M172.5 149.3h0M447.0 132.7h0M312.3 167.3h0M386.3 139.0h0M259.0 116.9h0M96.1 156.2h0M464.4 142.7h0M212.1 199.8h0M272.0 140.8h0M476.1 134.8h0M468.4 151.2h0M63.4 146.0h0M72.9 141.9h0M394.0 128.1h0M141.5 163.4h0M362.5 133.3h0M109.0 148.9h0M254.3 113.0h0M262.6 113.7h0M280.0 143.8h0M406.6 147.6h0M496.7 158.0h0M49.8 154.5h0M444.9 150.3h0M394.1 145.7h0M378.0 104.0h0M96.2 154.7h0M296.1 164.4h0M64.6 133.3h0M252.9 145.7h0M459.2 127.2h0M320.7 163.3h0M219.8 145.3h0M494.8 144.0h0M166.7 129.3h0M258.2 130.0h0M265.4 111.2h0M473.7 130.2h0M54.5 136.0h0M400.6 135.8h0M71.4 126.4h0M315.1 162.1h0M81.5 147.2h0M339.9 125.4h0M110.4 171.3h0M139.2 157.5h0M90.4 173.1h0M450.5 136.1h0M93.5 137.5h0M53.9 148.7h0M238.0 157.7h0M96.8 162.9h0M341.8 115.7h0M292.6 157.9h0M489.9 152.2h0M347.5 123.2h0M477.2 152.7h0M498.6 142.3h0M272.5 153.8h0M263.9 105.6h0M452.8 144.5h0M440.8 140.6h0M437.2 138.7h0M248.0 139.4h0M168.4 157.2h0M373.2 94.2h0M504.4 154.2h0M79.7 131.5h0M87.3 162.5h0M122.0 157.8h0M432.9 130.4h0M195.8 145.0h0M104.1 169.0h0M468.6 133.2h0M253.3 146.3h0M336.4 173.1h0M279.6 154.1h0M299.1 153.6h0M152.9 172.7h0M112.8 168.6h0M294.5 169.7h0M71.7 123.2h0M355.9 123.9h0M52.2 139.0h0M331.5 161.2h0M335.3 168.4h0M244.8 147.8h0M275.2 145.8h0M204.6 143.7h0M337.7 159.5h0M335.9 160.2h0M498.9 150.9h0M478.3 147.6h0M112.2 165.0h0M59.6 139.5h0M152.6 153.6h0M353.0 123.6h0M107.8 147.4h0M406.2 142.9h0M54.2 154.6h0M192.2 117.0h0M57.6 124.0h0M167.6 141.5h0M342.8 103.0h0M406.4 162.0h0M279.0 154.3h0M286.2 155.2h0M252.8 145.2h0M314.0 174.2h0M73.9 133.8h0M408.0 116.4h0M117.3 166.3h0M132.1 170.1h0M353.5 135.6h0M263.6 125.4h0M113.8 140.9h0M128.7 160.4h0M333.5 184.7h0M458.3 130.2h0M334.7 149.0h0M498.0 146.9h0M420.5 139.5h0M413.7 172.3h0M203.1 144.4h0M345.9 117.8h0M169.5 137.6h0M208.2 140.6h0M423.3 132.0h0M426.1 144.5h0M122.5 156.1h0M402.0 132.0h0M189.8 117.2h0M432.7 141.8h0M361.3 137.3h0M393.8 135.8h0M195.1 117.0h0M78.8 144.4h0M90.6 160.7h0M194.1 116.5h0M474.9 141.9h0M278.7 147.2h0M273.6 143.9h0M172.0 154.6h0M211.4 167.0h0M139.3 160.8h0M170.7 149.5h0M435.4 142.3h0M354.7 137.0h0M107.6 150.4h0M500.6 151.0h0M169.5 140.9h0M118.4 148.2h0M451.0 173.9h0M480.9 152.8h0M58.8 129.8h0M278.6 148.3h0M117.4 156.0h0M72.1 136.8h0M407.8 145.2h0M381.4 125.4h0M258.6 110.6h0M341.1 151.4h0M275.4 154.8h0M226.5 144.5h0M428.4 135.0h0M420.8 139.0h0M93.5 160.9h0M54.6 142.4h0M172.5 129.3h0M333.6 163.3h0M483.3 142.0h0M348.5 145.0h0M99.1 147.7h0M50.1 174.7h0M429.6 139.7h0M62.9 135.0h0M119.1 137.6h0M408.9 146.1h0M254.7 107.7h0M298.3 157.4h0M380.2 115.9h0M102.5 148.2h0M348.4 147.5h0M339.9 129.4h0M369.0 127.8h0M370.4 155.7h0M326.5 164.4h0M396.2 134.9h0M326.2 165.6h0M387.7 138.2h0M254.7 111.1h0M503.5 157.0h0M459.8 124.3h0M406.0 142.6h0M96.6 159.5h0M240.7 155.0h0M109.3 165.9h0M268.6 97.0h0M384.4 151.1h0M271.2 157.4h0M257.4 124.7h0M64.6 139.4h0M339.2 110.8h0M281.6 146.7h0M49.5 156.3h0M497.8 145.6h0M104.4 137.1h0M402.6 147.9h0M90.1 158.2h0M208.1 147.9h0M329.9 167.4h0M235.7 144.0h0M235.2 162.8h0M255.5 115.2h0M495.3 146.9h0M77.9 139.7h0M249.1 145.9h0M440.3 132.5h0M437.2 150.1h0M166.9 147.1h0M240.4 167.6h0M503.7 155.4h0M246.3 149.0h0M139.2 164.2h0M190.8 117.3h0M415.1 145.7h0M423.9 129.7h0M398.9 143.8h0M219.4 141.1h0M348.2 164.9h0M268.9 102.2h0M350.2 164.0h0M395.8 142.8h0M378.5 114.0h0M240.5 146.4h0M378.6 119.9h0M499.4 143.1h0M222.6 152.9h0M288.2 137.8h0M336.9 129.0h0M370.5 128.3h0M254.7 116.3h0M246.1 141.5h0M425.4 130.5h0M169.5 137.3h0M416.6 136.7h0M262.4 109.8h0M426.4 150.2h0M216.4 154.7h0M118.1 174.2h0M71.2 128.2h0M172.2 142.5h0M341.0 126.2h0M332.9 169.8h0M314.8 168.6h0M335.3 178.1h0M79.9 154.1h0M376.6 122.3h0M275.3 147.9h0M497.2 151.2h0M207.3 140.5h0M229.6 163.3h0M331.4 163.9h0M348.0 141.8h0M342.9 132.0h0M336.6 158.3h0M496.0 144.3h0M212.7 188.5h0M503.9 147.8h0M340.7 145.0h0M399.5 133.5h0M172.7 116.9h0M264.4 101.2h0M57.6 153.9h0M352.7 134.9h0M290.7 156.5h0M177.4 151.1h0M240.1 146.2h0M293.2 159.0h0M123.2 153.7h0M224.9 150.7h0M446.8 141.8h0M420.5 103.2h0M119.0 151.7h0M310.5 160.5h0M258.2 100.7h0M435.3 135.0h0M377.0 119.5h0M348.0 127.5h0M85.4 151.2h0M264.9 116.0h0M444.9 133.6h0M54.9 146.4h0M211.7 190.5h0M467.3 123.6h0M408.2 119.5h0M352.9 142.6h0M64.7 143.8h0M369.5 152.8h0M128.5 152.5h0M367.1 134.3h0M225.8 157.4h0M426.0 120.9h0M311.1 171.3h0M480.9 156.1h0M73.2 144.1h0M270.4 113.9h0M59.8 137.7h0M422.9 120.9h0M59.6 133.8h0M430.0 84.4h0M328.6 165.0h0M66.7 134.5h0M379.8 109.9h0M244.2 148.2h0M272.7 139.3h0M108.0 158.8h0M270.2 110.3h0M53.4 149.0h0M158.9 135.2h0M194.1 117.4h0M340.3 137.0h0M202.7 142.3h0M409.6 137.7h0M144.5 161.0h0M336.6 164.4h0M53.9 146.3h0M340.6 135.6h0M278.5 164.1h0M223.8 165.9h0M173.6 143.6h0M246.5 144.9h0M364.7 147.1h0M60.4 141.9h0M320.6 157.1h0M353.5 133.1h0M67.5 133.0h0M244.6 138.2h0M450.1 126.9h0M499.3 147.9h0M394.9 163.1h0M452.9 143.9h0M374.4 111.9h0M473.4 140.9h0M98.7 143.4h0M99.5 151.6h0M335.6 159.3h0M68.9 132.7h0M286.4 150.7h0M373.0 132.1h0M217.5 158.5h0M291.9 164.0h0M109.7 151.7h0M138.0 147.5h0M97.0 157.1h0M303.3 150.1h0M507.3 157.0h0M504.0 155.9h0M288.0 155.9h0M343.0 131.9h0M124.6 153.0h0M163.6 139.8h0M311.5 157.3h0M368.5 158.8h0M312.0 155.0h0M265.6 109.3h0M168.7 139.8h0M468.8 135.4h0M174.4 151.9h0M369.8 138.1h0M260.9 115.6h0M248.7 141.4h0M317.3 147.4h0M354.4 163.9h0M154.7 159.5h0M105.5 160.0h0M274.5 155.2h0M295.7 155.9h0M94.0 154.1h0M416.9 143.2h0M56.4 147.3h0M439.4 135.6h0M292.1 146.3h0M495.0 140.6h0M467.1 138.2h0M299.7 162.8h0M261.5 107.2h0M444.8 140.0h0M410.0 151.5h0M500.2 144.6h0M389.7 128.9h0M112.2 151.8h0M269.4 109.8h0M77.0 145.4h0M464.4 139.0h0M446.0 124.7h0M497.6 149.0h0M262.6 123.0h0M228.2 147.6h0M164.4 170.3h0M386.9 139.6h0M309.3 154.0h0M97.5 167.1h0M87.3 146.9h0M85.5 163.4h0M148.6 169.8h0M310.4 153.8h0M84.4 159.7h0M75.1 143.9h0M78.9 151.6h0M216.2 145.4h0M435.5 132.4h0M145.1 162.7h0M89.3 146.5h0M333.3 179.7h0M260.4 108.4h0M309.3 150.9h0M393.9 138.7h0M342.8 133.8h0M444.7 136.8h0M212.0 139.9h0M77.1 158.3h0M410.7 143.7h0M361.4 141.6h0M435.2 146.5h0M254.0 144.0h0M66.8 118.6h0M472.3 117.9h0M383.4 126.8h0M468.4 126.3h0M261.8 96.7h0M495.0 155.1h0M436.4 141.0h0M103.8 147.3h0M403.0 156.6h0M426.3 140.1h0M301.9 168.8h0M330.0 166.4h0M448.7 153.4h0M117.6 145.5h0M450.9 141.7h0M354.0 149.3h0M89.4 154.0h0M169.5 158.5h0M167.5 149.6h0M157.8 162.9h0M70.2 138.3h0M405.5 144.3h0M197.8 136.7h0M406.5 141.8h0M336.6 176.8h0M270.3 107.7h0M434.8 134.8h0M365.8 152.9h0M151.9 141.9h0M264.4 112.6h0M151.7 154.2h0M275.5 154.7h0M375.4 97.2h0M426.8 139.7h0M178.1 142.4h0M334.2 161.6h0M316.7 145.5h0M287.4 140.8h0M122.5 139.6h0M378.6 102.0h0M326.3 159.8h0M500.2 153.5h0M299.0 155.6h0M79.6 142.4h0M399.5 148.2h0M122.6 154.1h0M175.6 144.6h0M276.7 149.3h0M384.5 136.5h0M370.8 141.4h0M381.0 112.2h0M167.6 141.9h0M231.9 136.8h0M167.5 139.8h0M144.3 165.2h0M400.6 136.4h0M254.0 129.6h0M244.4 138.4h0M264.0 111.9h0M457.8 139.3h0M225.4 149.2h0M53.6 160.5h0M401.9 139.8h0M196.5 136.3h0M278.2 136.1h0M413.9 122.7h0M65.7 140.3h0M480.4 145.0h0M316.5 171.0h0M373.5 99.8h0M100.7 165.5h0M327.5 165.3h0M423.2 149.5h0M373.5 108.6h0M347.9 117.7h0M273.1 147.9h0M155.6 146.3h0M153.5 161.5h0" stroke="#f00"/>
</g>
<g stroke-width="1.7" stroke-linecap="square">
<line x1="49" y1="40" x2="536" y2="40" stroke="#777"/>
<line x1="536" y1="40" x2="536" y2="247" stroke="#5c5c5c"/>
<line x1="49" y1="40" x2="49" y2="247" stroke="#848484"/>
<line x1="49" y1="247" x2="536" y2="247" stroke="#5e5e5e"/>
</g>
<g stroke-width="1.7"><g stroke="#848484"><line x1="45" y1="237.9" x2="49" y2="237.9"/><line x1="45" y1="190.7" x2="49" y2="190.7"/><line x1="45" y1="143.5" x2="49" y2="143.5"/><line x1="45" y1="96.3" x2="49" y2="96.3"/><line x1="45" y1="49.0" x2="49" y2="49.0"/></g><g stroke="#5e5e5e"><line x1="49.0" y1="247" x2="49.0" y2="250.5"/><line x1="113.9" y1="247" x2="113.9" y2="250.5"/><line x1="178.9" y1="247" x2="178.9" y2="250.5"/><line x1="243.8" y1="247" x2="243.8" y2="250.5"/><line x1="308.7" y1="247" x2="308.7" y2="250.5"/><line x1="373.7" y1="247" x2="373.7" y2="250.5"/><line x1="438.6" y1="247" x2="438.6" y2="250.5"/><line x1="503.5" y1="247" x2="503.5" y2="250.5"/></g></g>
<g font-size="15.4" text-anchor="end" fill="#000"><text x="42.6" y="243.7">9</text><text x="42.6" y="196.5">10</text><text x="42.6" y="149.3">11</text><text x="42.6" y="102.1">12</text><text x="42.6" y="54.8">13</text></g>
<g font-size="15.6" text-anchor="middle" fill="#000"><text x="49.0" y="264.5">0</text><text x="113.9" y="264.5">10</text><text x="178.9" y="264.5">20</text><text x="243.8" y="264.5">30</text><text x="308.7" y="264.5">40</text><text x="373.7" y="264.5">50</text><text x="438.6" y="264.5">60</text><text x="503.5" y="264.5">70</text></g>
<circle cx="103" cy="20.7" r="4.5" fill="#000"/>
<text y="26" font-size="16" fill="#000"><tspan x="116.8">LiDAR</tspan> <tspan x="168.5">Width</tspan></text>
<circle cx="253" cy="20.8" r="4.5" fill="#f00"/>
<text y="26" font-size="16" fill="#000"><tspan x="266.6">Production</tspan> <tspan x="339.2" textLength="45.6" lengthAdjust="spacingAndGlyphs">Vehicle</tspan> <tspan x="391.4">Width</tspan></text>
<text x="249.5" y="282.3" font-size="16" font-weight="bold" textLength="86.2" lengthAdjust="spacingAndGlyphs">Mile Marker</text>
<text transform="translate(20.8,197.8) rotate(-90)" font-size="16" font-weight="bold">Lane Width (ft)</text>
<line x1="30" y1="288" x2="539" y2="288" stroke="#f00" stroke-width="3"/>
<polygon points="22.3,288 31.5,283.6 31.5,292.4" fill="#f00"/>
<rect x="366.5" y="274" width="140" height="27" fill="#fff" stroke="#000" stroke-width="1.5"/>
<text y="294" font-size="16" fill="#000"><tspan x="376.1" textLength="57.9" lengthAdjust="spacingAndGlyphs">Direction</tspan> <tspan x="439.6" textLength="12.9" lengthAdjust="spacingAndGlyphs">of</tspan> <tspan x="453.9">Travel</tspan></text>
<text x="272.8" y="321" font-size="12" text-anchor="middle">(<tspan font-weight="bold">a</tspan>)</text>
</svg>
</body></html>
